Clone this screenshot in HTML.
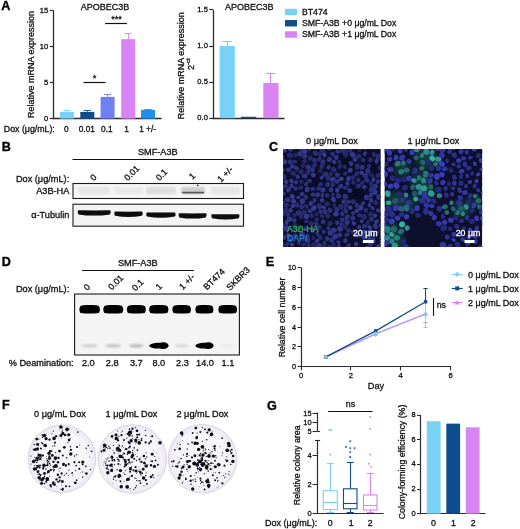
<!DOCTYPE html>
<html><head><meta charset="utf-8"><style>
html,body{margin:0;padding:0;background:#fff;}
svg{display:block;font-family:"Liberation Sans",sans-serif;}
</style></head><body>
<svg width="520" height="529" viewBox="0 0 520 529">
<defs>
<radialGradient id="pg" cx="50%" cy="50%" r="50%"><stop offset="0" stop-color="#faf9fc"/><stop offset="0.8" stop-color="#f6f5f9"/><stop offset="1" stop-color="#ebe8f1"/></radialGradient>
<filter id="b03" x="-50%" y="-50%" width="200%" height="200%"><feGaussianBlur stdDeviation="0.3"/></filter>
<filter id="b04" x="-100%" y="-100%" width="300%" height="300%"><feGaussianBlur stdDeviation="0.4"/></filter>
<filter id="b05" x="-20%" y="-50%" width="140%" height="200%"><feGaussianBlur stdDeviation="0.5"/></filter>
<filter id="b06" x="-5%" y="-5%" width="110%" height="110%"><feGaussianBlur stdDeviation="0.75"/></filter>
<filter id="b4" x="-100%" y="-100%" width="300%" height="300%"><feGaussianBlur stdDeviation="3.5"/></filter>
<filter id="b1" x="-20%" y="-100%" width="140%" height="300%"><feGaussianBlur stdDeviation="1"/></filter>
</defs>
<rect width="520" height="529" fill="#fff"/>
<text x="1.2" y="9.6" font-size="12.6" text-anchor="start" font-weight="bold" fill="#000" stroke="#000" stroke-width="0.35">A</text>
<text x="1.7" y="150.6" font-size="12.6" text-anchor="start" font-weight="bold" fill="#000" stroke="#000" stroke-width="0.35">B</text>
<text x="269.0" y="150.8" font-size="12.6" text-anchor="start" font-weight="bold" fill="#000" stroke="#000" stroke-width="0.35">C</text>
<text x="1.7" y="265.6" font-size="12.6" text-anchor="start" font-weight="bold" fill="#000" stroke="#000" stroke-width="0.35">D</text>
<text x="265.8" y="266.4" font-size="12.6" text-anchor="start" font-weight="bold" fill="#000" stroke="#000" stroke-width="0.35">E</text>
<text x="1.9" y="408.9" font-size="12.6" text-anchor="start" font-weight="bold" fill="#000" stroke="#000" stroke-width="0.35">F</text>
<text x="267.0" y="409.5" font-size="12.6" text-anchor="start" font-weight="bold" fill="#000" stroke="#000" stroke-width="0.35">G</text>
<line x1="53.5" y1="10.8" x2="53.5" y2="119.19999999999999" stroke="#2b2b2b" stroke-width="1.3"/>
<line x1="53.199999999999996" y1="118.5" x2="161.5" y2="118.5" stroke="#2b2b2b" stroke-width="1.3"/>
<line x1="49.8" y1="118.5" x2="53.8" y2="118.5" stroke="#2b2b2b" stroke-width="1.2"/>
<text x="48.3" y="121.3" font-size="7.6" text-anchor="end" font-weight="normal" fill="#111" stroke="#111" stroke-width="0.3" >0</text>
<line x1="49.8" y1="82.5" x2="53.8" y2="82.5" stroke="#2b2b2b" stroke-width="1.2"/>
<text x="48.3" y="85.35" font-size="7.6" text-anchor="end" font-weight="normal" fill="#111" stroke="#111" stroke-width="0.3" >5</text>
<line x1="49.8" y1="46.5" x2="53.8" y2="46.5" stroke="#2b2b2b" stroke-width="1.2"/>
<text x="48.3" y="49.39999999999999" font-size="7.6" text-anchor="end" font-weight="normal" fill="#111" stroke="#111" stroke-width="0.3" >10</text>
<line x1="49.8" y1="10.5" x2="53.8" y2="10.5" stroke="#2b2b2b" stroke-width="1.2"/>
<text x="48.3" y="13.449999999999985" font-size="7.6" text-anchor="end" font-weight="normal" fill="#111" stroke="#111" stroke-width="0.3" >15</text>
<text x="105" y="9.5" font-size="9" text-anchor="middle" font-weight="normal" fill="#111" stroke="#111" stroke-width="0.3" >APOBEC3B</text>
<text x="0" y="0" font-size="9" text-anchor="middle" font-weight="normal" fill="#111" stroke="#111" stroke-width="0.3" transform="translate(33.8,64.5) rotate(-90)">Relative mRNA expression</text>
<rect x="60" y="111.91329999999999" width="14" height="6.686700000000002" fill="#78d2f6" />
<line x1="67.5" y1="110.61909999999999" x2="67.5" y2="111.91329999999999" stroke="#78d2f6" stroke-width="0.9"/>
<line x1="63.3" y1="110.5" x2="70.7" y2="110.5" stroke="#78d2f6" stroke-width="0.9"/>
<rect x="80.3" y="111.91329999999999" width="14" height="6.686700000000002" fill="#0f4c8b" />
<line x1="87.5" y1="110.40339999999999" x2="87.5" y2="111.91329999999999" stroke="#0f4c8b" stroke-width="0.9"/>
<line x1="83.6" y1="110.5" x2="91.0" y2="110.5" stroke="#0f4c8b" stroke-width="0.9"/>
<rect x="100.6" y="96.88619999999999" width="14" height="21.713800000000006" fill="#6e80f3" />
<line x1="107.5" y1="94.0821" x2="107.5" y2="96.88619999999999" stroke="#6e80f3" stroke-width="0.9"/>
<line x1="103.89999999999999" y1="94.5" x2="111.3" y2="94.5" stroke="#6e80f3" stroke-width="0.9"/>
<rect x="121.2" y="39.15049999999998" width="14" height="79.44950000000001" fill="#d984f5" />
<line x1="128.5" y1="33.3985" x2="128.5" y2="39.15049999999998" stroke="#d984f5" stroke-width="0.9"/>
<line x1="124.49999999999999" y1="33.5" x2="131.89999999999998" y2="33.5" stroke="#d984f5" stroke-width="0.9"/>
<rect x="141" y="109.8282" width="14" height="8.771799999999999" fill="#1f8fe9" />
<line x1="148.5" y1="109.03729999999999" x2="148.5" y2="109.8282" stroke="#1f8fe9" stroke-width="0.9"/>
<line x1="144.3" y1="109.5" x2="151.7" y2="109.5" stroke="#1f8fe9" stroke-width="0.9"/>
<line x1="83.5" y1="82.5" x2="105.7" y2="82.5" stroke="#111" stroke-width="1.2"/>
<text x="94.5" y="81.2" font-size="9.2" text-anchor="middle" font-weight="normal" fill="#111" stroke="#111" stroke-width="0.3" >*</text>
<line x1="105.1" y1="23.5" x2="126.9" y2="23.5" stroke="#111" stroke-width="1.2"/>
<text x="116.5" y="22.0" font-size="9.2" text-anchor="middle" font-weight="normal" fill="#111" stroke="#111" stroke-width="0.3" >***</text>
<text x="3.8" y="132.4" font-size="8.8" text-anchor="start" font-weight="normal" fill="#111" stroke="#111" stroke-width="0.3" >Dox (μg/mL):</text>
<text x="66.4" y="132.2" font-size="8.3" text-anchor="middle" font-weight="normal" fill="#111" stroke="#111" stroke-width="0.3" >0</text>
<text x="86.8" y="132.2" font-size="8.3" text-anchor="middle" font-weight="normal" fill="#111" stroke="#111" stroke-width="0.3" >0.01</text>
<text x="106.8" y="132.2" font-size="8.3" text-anchor="middle" font-weight="normal" fill="#111" stroke="#111" stroke-width="0.3" >0.1</text>
<text x="126.6" y="132.2" font-size="8.3" text-anchor="middle" font-weight="normal" fill="#111" stroke="#111" stroke-width="0.3" >1</text>
<text x="147.6" y="132.2" font-size="8.3" text-anchor="middle" font-weight="normal" fill="#111" stroke="#111" stroke-width="0.3" >1 +/-</text>
<line x1="213.5" y1="9.9" x2="213.5" y2="118.8" stroke="#2b2b2b" stroke-width="1.3"/>
<line x1="212.6" y1="118.5" x2="284.5" y2="118.5" stroke="#2b2b2b" stroke-width="1.3"/>
<line x1="209.2" y1="118.5" x2="213.2" y2="118.5" stroke="#2b2b2b" stroke-width="1.2"/>
<text x="207.89999999999998" y="120.4" font-size="7.6" text-anchor="end" font-weight="normal" fill="#111" stroke="#111" stroke-width="0.3" >0.0</text>
<line x1="209.2" y1="82.5" x2="213.2" y2="82.5" stroke="#2b2b2b" stroke-width="1.2"/>
<text x="207.89999999999998" y="84.3" font-size="7.6" text-anchor="end" font-weight="normal" fill="#111" stroke="#111" stroke-width="0.3" >0.5</text>
<line x1="209.2" y1="46.5" x2="213.2" y2="46.5" stroke="#2b2b2b" stroke-width="1.2"/>
<text x="207.89999999999998" y="48.2" font-size="7.6" text-anchor="end" font-weight="normal" fill="#111" stroke="#111" stroke-width="0.3" >1.0</text>
<line x1="209.2" y1="9.5" x2="213.2" y2="9.5" stroke="#2b2b2b" stroke-width="1.2"/>
<text x="207.89999999999998" y="12.09999999999999" font-size="7.6" text-anchor="end" font-weight="normal" fill="#111" stroke="#111" stroke-width="0.3" >1.5</text>
<text x="249.2" y="9.8" font-size="9" text-anchor="middle" font-weight="normal" fill="#111" stroke="#111" stroke-width="0.3" >APOBEC3B</text>
<text x="0" y="0" font-size="9" text-anchor="middle" font-weight="normal" fill="#111" stroke="#111" stroke-width="0.3" transform="translate(183.6,65.8) rotate(-90)">Relative mRNA expression</text>
<text x="0" y="0" font-size="9" text-anchor="middle" fill="#111" stroke="#111" stroke-width="0.3" transform="translate(193.8,64.2) rotate(-90)">2<tspan font-size="6" dy="-3.6">-ct</tspan></text>
<rect x="219.6" y="46.0" width="15.2" height="72.2" fill="#78d2f6" />
<line x1="227.5" y1="41.66799999999999" x2="227.5" y2="46.0" stroke="#78d2f6" stroke-width="1.0"/>
<line x1="222.7" y1="41.5" x2="231.7" y2="41.5" stroke="#78d2f6" stroke-width="1.0"/>
<rect x="241" y="116.756" width="15.2" height="1.4440000000000026" fill="#0f4c8b" />
<rect x="263.3" y="82.89420000000001" width="15.2" height="35.30579999999999" fill="#d984f5" />
<line x1="270.5" y1="73.436" x2="270.5" y2="82.89420000000001" stroke="#d984f5" stroke-width="1.0"/>
<line x1="266.40000000000003" y1="73.5" x2="275.40000000000003" y2="73.5" stroke="#d984f5" stroke-width="1.0"/>
<rect x="285" y="8.8" width="12" height="6.4" fill="#78d2f6" />
<text x="302" y="14.8" font-size="8.7" text-anchor="start" font-weight="normal" fill="#111" stroke="#111" stroke-width="0.3" >BT474</text>
<rect x="285" y="20.05" width="12" height="6.4" fill="#0f4c8b" />
<text x="302" y="26.05" font-size="8.7" text-anchor="start" font-weight="normal" fill="#111" stroke="#111" stroke-width="0.3" >SMF-A3B +0 μg/mL Dox</text>
<rect x="285" y="31.3" width="12" height="6.4" fill="#d984f5" />
<text x="302" y="37.3" font-size="8.7" text-anchor="start" font-weight="normal" fill="#111" stroke="#111" stroke-width="0.3" >SMF-A3B +1 μg/mL Dox</text>
<text x="157.8" y="154.7" font-size="9.2" text-anchor="middle" font-weight="normal" fill="#111" stroke="#111" stroke-width="0.3" >SMF-A3B</text>
<line x1="72.5" y1="159.5" x2="243.8" y2="159.5" stroke="#111" stroke-width="1.1"/>
<text x="69.2" y="182.0" font-size="9.2" text-anchor="end" font-weight="normal" fill="#111" stroke="#111" stroke-width="0.3" >Dox (μg/mL):</text>
<text x="0" y="0" font-size="8.8" text-anchor="middle" font-weight="normal" fill="#111" stroke="#111" stroke-width="0.3" transform="translate(95.4,179.5) rotate(-45)">0</text>
<text x="0" y="0" font-size="8.8" text-anchor="middle" font-weight="normal" fill="#111" stroke="#111" stroke-width="0.3" transform="translate(133.9,175.2) rotate(-45)">0.01</text>
<text x="0" y="0" font-size="8.8" text-anchor="middle" font-weight="normal" fill="#111" stroke="#111" stroke-width="0.3" transform="translate(163.7,176.9) rotate(-45)">0.1</text>
<text x="0" y="0" font-size="8.8" text-anchor="middle" font-weight="normal" fill="#111" stroke="#111" stroke-width="0.3" transform="translate(194.2,178.2) rotate(-45)">1</text>
<text x="0" y="0" font-size="8.8" text-anchor="middle" font-weight="normal" fill="#111" stroke="#111" stroke-width="0.3" transform="translate(227.2,176.5) rotate(-45)">1 +/-</text>
<text x="69.4" y="194.2" font-size="9.2" text-anchor="end" font-weight="normal" fill="#111" stroke="#111" stroke-width="0.3" >A3B-HA</text>
<text x="69.4" y="218.4" font-size="9.2" text-anchor="end" font-weight="normal" fill="#111" stroke="#111" stroke-width="0.3" >α-Tubulin</text>
<rect x="73" y="183.5" width="170.5" height="15" fill="#f5f5f5" stroke="#1a1a1a" stroke-width="1.1"/>
<rect x="73" y="204.2" width="170.5" height="22" fill="#f3f3f3" stroke="#1a1a1a" stroke-width="1.1"/>
<rect x="78" y="187" width="32" height="7" rx="2" fill="#333" opacity="0.08" filter="url(#b1)"/>
<rect x="114" y="187" width="29" height="7" rx="2" fill="#333" opacity="0.06" filter="url(#b1)"/>
<rect x="146" y="187" width="30" height="7" rx="2" fill="#333" opacity="0.12" filter="url(#b1)"/>
<rect x="181" y="187" width="24" height="7" rx="2" fill="#333" opacity="0.2" filter="url(#b1)"/>
<rect x="211" y="187" width="29" height="7" rx="2" fill="#333" opacity="0.08" filter="url(#b1)"/>
<rect x="182" y="191.7" width="22.3" height="1.7" rx="0.8" fill="#333" opacity="0.75" filter="url(#b03)"/>
<circle cx="197.7" cy="185.4" r="0.8" fill="#222"/>
<path d="M78.1,210.29999999999998 Q94.19999999999999,210.5 110.3,210.29999999999998 Q111.39999999999999,212.39999999999998 110.0,214.39999999999998 Q94.19999999999999,216.79999999999998 78.39999999999999,214.39999999999998 Q77.0,212.39999999999998 78.1,210.29999999999998 Z" fill="#0a0a0a" filter="url(#b05)"/>
<path d="M114.8,211.6 Q128.5,211.8 142.2,211.6 Q143.29999999999998,213.7 141.89999999999998,215.7 Q128.5,218.1 115.1,215.7 Q113.7,213.7 114.8,211.6 Z" fill="#0a0a0a" filter="url(#b05)"/>
<path d="M146.7,212.4 Q160.89999999999998,212.60000000000002 175.1,212.4 Q176.2,214.5 174.79999999999998,216.5 Q160.89999999999998,218.9 147.0,216.5 Q145.6,214.5 146.7,212.4 Z" fill="#0a0a0a" filter="url(#b05)"/>
<path d="M179.0,213.29999999999998 Q192.6,213.5 206.2,213.29999999999998 Q207.29999999999998,215.39999999999998 205.89999999999998,217.39999999999998 Q192.6,219.79999999999998 179.3,217.39999999999998 Q177.9,215.39999999999998 179.0,213.29999999999998 Z" fill="#0a0a0a" filter="url(#b05)"/>
<path d="M211.7,214.2 Q225.39999999999998,214.4 239.1,214.2 Q240.2,216.29999999999998 238.79999999999998,218.29999999999998 Q225.39999999999998,220.7 212.0,218.29999999999998 Q210.6,216.29999999999998 211.7,214.2 Z" fill="#0a0a0a" filter="url(#b05)"/>
<text x="137.8" y="266.4" font-size="9.2" text-anchor="middle" font-weight="normal" fill="#111" stroke="#111" stroke-width="0.3" >SMF-A3B</text>
<line x1="82.1" y1="270.5" x2="193.9" y2="270.5" stroke="#111" stroke-width="1.1"/>
<text x="69.2" y="291.5" font-size="9.2" text-anchor="end" font-weight="normal" fill="#111" stroke="#111" stroke-width="0.3" >Dox (μg/mL):</text>
<text x="0" y="0" font-size="8.8" text-anchor="middle" font-weight="normal" fill="#111" stroke="#111" stroke-width="0.3" transform="translate(88.9,289.2) rotate(-45)">0</text>
<text x="0" y="0" font-size="8.8" text-anchor="middle" font-weight="normal" fill="#111" stroke="#111" stroke-width="0.3" transform="translate(117.9,284.5) rotate(-45)">0.01</text>
<text x="0" y="0" font-size="8.8" text-anchor="middle" font-weight="normal" fill="#111" stroke="#111" stroke-width="0.3" transform="translate(139.9,287.1) rotate(-45)">0.1</text>
<text x="0" y="0" font-size="8.8" text-anchor="middle" font-weight="normal" fill="#111" stroke="#111" stroke-width="0.3" transform="translate(161.1,288.8) rotate(-45)">1</text>
<text x="0" y="0" font-size="8.8" text-anchor="middle" font-weight="normal" fill="#111" stroke="#111" stroke-width="0.3" transform="translate(189.0,284.0) rotate(-45)">1 +/-</text>
<text x="0" y="0" font-size="8.8" text-anchor="middle" font-weight="normal" fill="#111" stroke="#111" stroke-width="0.3" transform="translate(216.2,281.4) rotate(-45)">BT474</text>
<text x="0" y="0" font-size="8.8" text-anchor="middle" font-weight="normal" fill="#111" stroke="#111" stroke-width="0.3" transform="translate(240.2,280.7) rotate(-45)">SKBR3</text>
<rect x="74.6" y="294" width="164.8" height="61" fill="#f4f4f4" stroke="#1a1a1a" stroke-width="1.1"/>
<path d="M80.5,306 Q83,304.6 89.65,305 Q96.3,304.6 98.8,306 Q101.1,309.5 98.8,313 Q89.65,314.2 80.5,313 Q78.2,309.5 80.5,306 Z" fill="#050505" filter="url(#b05)"/>
<path d="M104.4,306 Q106.9,304.6 113.25,305 Q119.6,304.6 122.1,306 Q124.39999999999999,309.5 122.1,313 Q113.25,314.2 104.4,313 Q102.10000000000001,309.5 104.4,306 Z" fill="#050505" filter="url(#b05)"/>
<path d="M128.0,306 Q130.5,304.6 136.35,305 Q142.2,304.6 144.7,306 Q147.0,309.5 144.7,313 Q136.35,314.2 128.0,313 Q125.7,309.5 128.0,306 Z" fill="#050505" filter="url(#b05)"/>
<path d="M150.3,306 Q152.8,304.6 158.8,305 Q164.8,304.6 167.3,306 Q169.60000000000002,309.5 167.3,313 Q158.8,314.2 150.3,313 Q148.0,309.5 150.3,306 Z" fill="#050505" filter="url(#b05)"/>
<path d="M173.5,306 Q176,304.6 181.65,305 Q187.3,304.6 189.8,306 Q192.10000000000002,309.5 189.8,313 Q181.65,314.2 173.5,313 Q171.2,309.5 173.5,306 Z" fill="#050505" filter="url(#b05)"/>
<path d="M196.5,306 Q199,304.6 204.4,305 Q209.8,304.6 212.3,306 Q214.60000000000002,309.5 212.3,313 Q204.4,314.2 196.5,313 Q194.2,309.5 196.5,306 Z" fill="#050505" filter="url(#b05)"/>
<path d="M219.5,306 Q222,304.6 227.75,305 Q233.5,304.6 236.0,306 Q238.3,309.5 236.0,313 Q227.75,314.2 219.5,313 Q217.2,309.5 219.5,306 Z" fill="#050505" filter="url(#b05)"/>
<ellipse cx="89.65" cy="345.8" rx="8.149999999999999" ry="1.8" fill="#333" opacity="0.18" filter="url(#b1)"/>
<ellipse cx="113.25" cy="345.8" rx="7.849999999999994" ry="1.8" fill="#333" opacity="0.25" filter="url(#b1)"/>
<ellipse cx="136.35" cy="345.8" rx="7.349999999999994" ry="1.8" fill="#333" opacity="0.3" filter="url(#b1)"/>
<g fill="#050505" filter="url(#b05)"><ellipse cx="158.8" cy="345.7" rx="9.7" ry="2.9"/><ellipse cx="163.3" cy="345.7" rx="5.2" ry="3.4"/></g>
<ellipse cx="181.65" cy="345.8" rx="7.150000000000006" ry="1.8" fill="#333" opacity="0.15" filter="url(#b1)"/>
<g fill="#050505" filter="url(#b05)"><ellipse cx="204.4" cy="345.7" rx="9.100000000000005" ry="2.9"/><ellipse cx="208.3" cy="345.7" rx="5.2" ry="3.4"/></g>
<ellipse cx="227.75" cy="345.8" rx="7.25" ry="1.8" fill="#333" opacity="0.05" filter="url(#b1)"/>
<text x="8.7" y="366.2" font-size="9.2" text-anchor="start" font-weight="normal" fill="#111" stroke="#111" stroke-width="0.3" >% Deamination:</text>
<text x="88.3" y="366.2" font-size="9.2" text-anchor="middle" font-weight="normal" fill="#111" stroke="#111" stroke-width="0.3" >2.0</text>
<text x="112.2" y="366.2" font-size="9.2" text-anchor="middle" font-weight="normal" fill="#111" stroke="#111" stroke-width="0.3" >2.8</text>
<text x="136.3" y="366.2" font-size="9.2" text-anchor="middle" font-weight="normal" fill="#111" stroke="#111" stroke-width="0.3" >3.7</text>
<text x="158.8" y="366.2" font-size="9.2" text-anchor="middle" font-weight="normal" fill="#111" stroke="#111" stroke-width="0.3" >8.0</text>
<text x="182.5" y="366.2" font-size="9.2" text-anchor="middle" font-weight="normal" fill="#111" stroke="#111" stroke-width="0.3" >2.3</text>
<text x="205" y="366.2" font-size="9.2" text-anchor="middle" font-weight="normal" fill="#111" stroke="#111" stroke-width="0.3" >14.0</text>
<text x="228" y="366.2" font-size="9.2" text-anchor="middle" font-weight="normal" fill="#111" stroke="#111" stroke-width="0.3" >1.1</text>
<clipPath id="clip11"><rect x="283" y="149" width="97.8" height="98"/></clipPath>
<g clip-path="url(#clip11)">
<rect x="283" y="149" width="97.8" height="98" fill="#0d0f2c" />
<g filter="url(#b06)">
<ellipse cx="327.2" cy="203.9" rx="2.7" ry="2.3" transform="rotate(175 327.2 203.9)" fill="rgb(42, 47, 120)"/>
<ellipse cx="319.3" cy="206.3" rx="2.9" ry="2.7" transform="rotate(72 319.3 206.3)" fill="rgb(41, 46, 118)"/>
<ellipse cx="330.0" cy="210.1" rx="2.7" ry="2.4" transform="rotate(77 330.0 210.1)" fill="rgb(46, 51, 130)"/>
<ellipse cx="325.1" cy="211.8" rx="2.7" ry="2.4" transform="rotate(65 325.1 211.8)" fill="rgb(46, 51, 129)"/>
<ellipse cx="322.1" cy="200.3" rx="2.4" ry="2.2" transform="rotate(19 322.1 200.3)" fill="rgb(49, 55, 139)"/>
<ellipse cx="327.6" cy="215.6" rx="2.7" ry="2.3" transform="rotate(80 327.6 215.6)" fill="rgb(37, 41, 105)"/>
<ellipse cx="327.3" cy="195.4" rx="2.4" ry="2.2" transform="rotate(7 327.3 195.4)" fill="rgb(40, 45, 114)"/>
<ellipse cx="331.0" cy="189.7" rx="2.5" ry="2.2" transform="rotate(107 331.0 189.7)" fill="rgb(46, 52, 131)"/>
<ellipse cx="314.6" cy="200.3" rx="2.5" ry="2.1" transform="rotate(109 314.6 200.3)" fill="rgb(43, 48, 121)"/>
<ellipse cx="327.5" cy="184.4" rx="2.8" ry="2.4" transform="rotate(112 327.5 184.4)" fill="rgb(43, 48, 121)"/>
<ellipse cx="313.0" cy="194.6" rx="2.2" ry="2.0" transform="rotate(178 313.0 194.6)" fill="rgb(50, 56, 140)"/>
<ellipse cx="320.5" cy="211.4" rx="2.5" ry="2.1" transform="rotate(63 320.5 211.4)" fill="rgb(44, 49, 125)"/>
<ellipse cx="328.1" cy="178.2" rx="2.6" ry="2.2" transform="rotate(175 328.1 178.2)" fill="rgb(42, 47, 120)"/>
<ellipse cx="322.3" cy="195.3" rx="2.5" ry="1.9" transform="rotate(76 322.3 195.3)" fill="rgb(44, 49, 123)"/>
<ellipse cx="323.9" cy="207.4" rx="2.2" ry="1.7" transform="rotate(15 323.9 207.4)" fill="rgb(52, 58, 146)"/>
<ellipse cx="332.6" cy="184.6" rx="2.3" ry="2.1" transform="rotate(78 332.6 184.6)" fill="rgb(41, 46, 117)"/>
<ellipse cx="332.7" cy="195.0" rx="2.4" ry="1.9" transform="rotate(95 332.7 195.0)" fill="rgb(37, 42, 107)"/>
<ellipse cx="317.6" cy="194.9" rx="2.6" ry="2.3" transform="rotate(131 317.6 194.9)" fill="rgb(48, 53, 135)"/>
<ellipse cx="336.0" cy="213.9" rx="2.7" ry="2.5" transform="rotate(158 336.0 213.9)" fill="rgb(52, 58, 147)"/>
<ellipse cx="337.2" cy="190.3" rx="2.6" ry="2.1" transform="rotate(83 337.2 190.3)" fill="rgb(53, 59, 148)"/>
<ellipse cx="340.7" cy="186.3" rx="2.7" ry="2.2" transform="rotate(153 340.7 186.3)" fill="rgb(47, 52, 132)"/>
<ellipse cx="323.1" cy="221.7" rx="2.4" ry="2.2" transform="rotate(18 323.1 221.7)" fill="rgb(45, 50, 128)"/>
<ellipse cx="334.4" cy="205.5" rx="2.4" ry="1.9" transform="rotate(86 334.4 205.5)" fill="rgb(36, 41, 104)"/>
<ellipse cx="333.4" cy="199.7" rx="2.9" ry="2.3" transform="rotate(53 333.4 199.7)" fill="rgb(53, 59, 147)"/>
<ellipse cx="332.7" cy="179.2" rx="2.9" ry="2.3" transform="rotate(163 332.7 179.2)" fill="rgb(52, 57, 144)"/>
<ellipse cx="322.8" cy="189.8" rx="2.7" ry="2.5" transform="rotate(56 322.8 189.8)" fill="rgb(51, 57, 144)"/>
<ellipse cx="313.8" cy="208.1" rx="3.0" ry="2.5" transform="rotate(127 313.8 208.1)" fill="rgb(52, 58, 145)"/>
<ellipse cx="310.8" cy="203.4" rx="2.4" ry="2.0" transform="rotate(120 310.8 203.4)" fill="rgb(53, 59, 148)"/>
<ellipse cx="316.8" cy="219.2" rx="2.4" ry="2.1" transform="rotate(10 316.8 219.2)" fill="rgb(37, 41, 106)"/>
<ellipse cx="338.3" cy="196.0" rx="2.7" ry="2.4" transform="rotate(50 338.3 196.0)" fill="rgb(43, 48, 122)"/>
<ellipse cx="320.5" cy="184.3" rx="2.5" ry="2.0" transform="rotate(139 320.5 184.3)" fill="rgb(51, 57, 144)"/>
<ellipse cx="330.0" cy="223.5" rx="2.9" ry="2.3" transform="rotate(134 330.0 223.5)" fill="rgb(37, 41, 106)"/>
<ellipse cx="321.7" cy="177.5" rx="2.3" ry="1.9" transform="rotate(134 321.7 177.5)" fill="rgb(53, 59, 148)"/>
<ellipse cx="312.8" cy="188.9" rx="2.4" ry="2.0" transform="rotate(6 312.8 188.9)" fill="rgb(46, 51, 130)"/>
<ellipse cx="311.2" cy="223.5" rx="2.8" ry="2.2" transform="rotate(169 311.2 223.5)" fill="rgb(37, 41, 106)"/>
<ellipse cx="307.2" cy="189.4" rx="2.9" ry="2.4" transform="rotate(112 307.2 189.4)" fill="rgb(49, 55, 138)"/>
<ellipse cx="341.3" cy="178.9" rx="2.5" ry="2.2" transform="rotate(3 341.3 178.9)" fill="rgb(52, 58, 145)"/>
<ellipse cx="311.8" cy="215.8" rx="2.3" ry="2.0" transform="rotate(64 311.8 215.8)" fill="rgb(38, 42, 108)"/>
<ellipse cx="306.3" cy="206.3" rx="2.5" ry="2.0" transform="rotate(38 306.3 206.3)" fill="rgb(40, 44, 113)"/>
<ellipse cx="347.5" cy="183.5" rx="2.4" ry="2.0" transform="rotate(52 347.5 183.5)" fill="rgb(50, 55, 140)"/>
<ellipse cx="345.3" cy="173.6" rx="2.4" ry="1.8" transform="rotate(137 345.3 173.6)" fill="rgb(37, 41, 106)"/>
<ellipse cx="313.3" cy="175.0" rx="2.6" ry="2.3" transform="rotate(35 313.3 175.0)" fill="rgb(52, 58, 145)"/>
<ellipse cx="337.2" cy="222.8" rx="2.3" ry="2.2" transform="rotate(139 337.2 222.8)" fill="rgb(48, 53, 134)"/>
<ellipse cx="300.6" cy="187.6" rx="2.5" ry="2.1" transform="rotate(143 300.6 187.6)" fill="rgb(40, 44, 113)"/>
<ellipse cx="316.5" cy="213.9" rx="2.3" ry="2.0" transform="rotate(80 316.5 213.9)" fill="rgb(36, 40, 102)"/>
<ellipse cx="325.5" cy="174.4" rx="2.9" ry="2.6" transform="rotate(11 325.5 174.4)" fill="rgb(45, 50, 126)"/>
<ellipse cx="328.6" cy="228.4" rx="2.4" ry="2.0" transform="rotate(63 328.6 228.4)" fill="rgb(41, 46, 116)"/>
<ellipse cx="336.8" cy="209.5" rx="2.8" ry="2.3" transform="rotate(90 336.8 209.5)" fill="rgb(44, 49, 125)"/>
<ellipse cx="305.8" cy="197.3" rx="2.6" ry="2.1" transform="rotate(115 305.8 197.3)" fill="rgb(44, 49, 124)"/>
<ellipse cx="306.4" cy="221.5" rx="2.3" ry="1.8" transform="rotate(167 306.4 221.5)" fill="rgb(40, 44, 113)"/>
<ellipse cx="340.9" cy="206.7" rx="2.9" ry="2.5" transform="rotate(73 340.9 206.7)" fill="rgb(38, 42, 109)"/>
<ellipse cx="318.2" cy="188.4" rx="2.3" ry="1.9" transform="rotate(105 318.2 188.4)" fill="rgb(47, 53, 134)"/>
<ellipse cx="353.0" cy="177.4" rx="2.6" ry="2.1" transform="rotate(137 353.0 177.4)" fill="rgb(38, 42, 109)"/>
<ellipse cx="296.1" cy="182.1" rx="2.4" ry="2.1" transform="rotate(115 296.1 182.1)" fill="rgb(45, 50, 127)"/>
<ellipse cx="353.4" cy="182.6" rx="2.3" ry="2.1" transform="rotate(31 353.4 182.6)" fill="rgb(40, 45, 114)"/>
<ellipse cx="343.8" cy="201.7" rx="2.6" ry="2.2" transform="rotate(113 343.8 201.7)" fill="rgb(45, 50, 127)"/>
<ellipse cx="330.7" cy="174.0" rx="2.6" ry="2.0" transform="rotate(122 330.7 174.0)" fill="rgb(37, 42, 107)"/>
<ellipse cx="297.4" cy="205.1" rx="2.6" ry="2.3" transform="rotate(74 297.4 205.1)" fill="rgb(39, 44, 112)"/>
<ellipse cx="322.0" cy="216.1" rx="2.3" ry="1.8" transform="rotate(12 322.0 216.1)" fill="rgb(38, 42, 108)"/>
<ellipse cx="340.0" cy="228.9" rx="2.9" ry="2.6" transform="rotate(28 340.0 228.9)" fill="rgb(49, 55, 138)"/>
<ellipse cx="337.3" cy="174.9" rx="2.6" ry="2.4" transform="rotate(76 337.3 174.9)" fill="rgb(44, 49, 125)"/>
<ellipse cx="295.6" cy="188.4" rx="2.2" ry="2.0" transform="rotate(2 295.6 188.4)" fill="rgb(47, 52, 132)"/>
<ellipse cx="302.4" cy="201.3" rx="2.7" ry="2.5" transform="rotate(64 302.4 201.3)" fill="rgb(52, 58, 146)"/>
<ellipse cx="328.6" cy="167.3" rx="2.2" ry="2.0" transform="rotate(160 328.6 167.3)" fill="rgb(48, 54, 135)"/>
<ellipse cx="320.4" cy="170.9" rx="2.3" ry="2.2" transform="rotate(25 320.4 170.9)" fill="rgb(36, 40, 103)"/>
<ellipse cx="349.8" cy="190.5" rx="2.6" ry="2.3" transform="rotate(43 349.8 190.5)" fill="rgb(52, 57, 144)"/>
<ellipse cx="302.1" cy="194.2" rx="2.6" ry="2.1" transform="rotate(179 302.1 194.2)" fill="rgb(48, 53, 135)"/>
<ellipse cx="345.4" cy="187.6" rx="2.5" ry="1.9" transform="rotate(148 345.4 187.6)" fill="rgb(44, 49, 124)"/>
<ellipse cx="323.8" cy="231.9" rx="2.3" ry="1.9" transform="rotate(72 323.8 231.9)" fill="rgb(46, 51, 129)"/>
<ellipse cx="348.6" cy="178.5" rx="2.8" ry="2.3" transform="rotate(103 348.6 178.5)" fill="rgb(51, 57, 143)"/>
<ellipse cx="350.2" cy="170.2" rx="2.7" ry="2.2" transform="rotate(122 350.2 170.2)" fill="rgb(53, 58, 147)"/>
<ellipse cx="310.0" cy="210.9" rx="2.7" ry="2.2" transform="rotate(28 310.0 210.9)" fill="rgb(44, 49, 125)"/>
<ellipse cx="357.4" cy="166.5" rx="3.0" ry="2.4" transform="rotate(92 357.4 166.5)" fill="rgb(39, 44, 113)"/>
<ellipse cx="345.5" cy="196.6" rx="2.9" ry="2.7" transform="rotate(43 345.5 196.6)" fill="rgb(44, 49, 124)"/>
<ellipse cx="358.4" cy="186.2" rx="2.8" ry="2.3" transform="rotate(136 358.4 186.2)" fill="rgb(45, 50, 126)"/>
<ellipse cx="301.5" cy="181.7" rx="2.3" ry="2.0" transform="rotate(164 301.5 181.7)" fill="rgb(36, 41, 105)"/>
<ellipse cx="345.6" cy="210.6" rx="2.8" ry="2.2" transform="rotate(48 345.6 210.6)" fill="rgb(44, 49, 124)"/>
<ellipse cx="344.6" cy="166.7" rx="2.3" ry="1.8" transform="rotate(61 344.6 166.7)" fill="rgb(43, 48, 121)"/>
<ellipse cx="342.4" cy="213.9" rx="2.5" ry="2.0" transform="rotate(52 342.4 213.9)" fill="rgb(45, 50, 126)"/>
<ellipse cx="303.7" cy="212.4" rx="3.0" ry="2.4" transform="rotate(159 303.7 212.4)" fill="rgb(37, 41, 105)"/>
<ellipse cx="319.1" cy="227.3" rx="2.7" ry="2.5" transform="rotate(59 319.1 227.3)" fill="rgb(37, 41, 106)"/>
<ellipse cx="330.4" cy="233.1" rx="2.8" ry="2.6" transform="rotate(27 330.4 233.1)" fill="rgb(50, 56, 142)"/>
<ellipse cx="298.3" cy="197.4" rx="2.2" ry="1.7" transform="rotate(4 298.3 197.4)" fill="rgb(49, 54, 137)"/>
<ellipse cx="364.3" cy="187.1" rx="2.4" ry="2.1" transform="rotate(11 364.3 187.1)" fill="rgb(51, 57, 143)"/>
<ellipse cx="339.7" cy="166.7" rx="2.6" ry="2.0" transform="rotate(116 339.7 166.7)" fill="rgb(39, 43, 111)"/>
<ellipse cx="291.5" cy="181.0" rx="2.4" ry="2.0" transform="rotate(49 291.5 181.0)" fill="rgb(52, 58, 146)"/>
<ellipse cx="297.8" cy="176.8" rx="2.3" ry="1.9" transform="rotate(42 297.8 176.8)" fill="rgb(49, 54, 137)"/>
<ellipse cx="293.5" cy="201.3" rx="2.6" ry="2.4" transform="rotate(33 293.5 201.3)" fill="rgb(50, 55, 140)"/>
<ellipse cx="298.6" cy="213.0" rx="2.9" ry="2.5" transform="rotate(111 298.6 213.0)" fill="rgb(41, 46, 117)"/>
<ellipse cx="301.1" cy="171.7" rx="2.6" ry="2.4" transform="rotate(119 301.1 171.7)" fill="rgb(37, 41, 106)"/>
<ellipse cx="356.9" cy="173.8" rx="2.8" ry="2.3" transform="rotate(126 356.9 173.8)" fill="rgb(37, 41, 106)"/>
<ellipse cx="333.8" cy="230.1" rx="3.0" ry="2.5" transform="rotate(21 333.8 230.1)" fill="rgb(48, 54, 135)"/>
<ellipse cx="335.1" cy="236.6" rx="2.8" ry="2.7" transform="rotate(109 335.1 236.6)" fill="rgb(49, 54, 137)"/>
<ellipse cx="348.5" cy="230.4" rx="2.4" ry="2.0" transform="rotate(6 348.5 230.4)" fill="rgb(43, 47, 121)"/>
<ellipse cx="296.3" cy="168.2" rx="2.8" ry="2.3" transform="rotate(47 296.3 168.2)" fill="rgb(44, 49, 124)"/>
<ellipse cx="288.5" cy="189.6" rx="2.8" ry="2.3" transform="rotate(113 288.5 189.6)" fill="rgb(47, 52, 133)"/>
<ellipse cx="341.6" cy="224.4" rx="2.2" ry="2.1" transform="rotate(119 341.6 224.4)" fill="rgb(42, 47, 119)"/>
<ellipse cx="301.6" cy="206.8" rx="2.6" ry="2.3" transform="rotate(54 301.6 206.8)" fill="rgb(42, 46, 118)"/>
<ellipse cx="301.1" cy="216.9" rx="2.4" ry="2.2" transform="rotate(83 301.1 216.9)" fill="rgb(37, 41, 106)"/>
<ellipse cx="333.8" cy="169.6" rx="2.9" ry="2.4" transform="rotate(44 333.8 169.6)" fill="rgb(40, 45, 114)"/>
<ellipse cx="339.5" cy="235.1" rx="2.8" ry="2.3" transform="rotate(153 339.5 235.1)" fill="rgb(48, 54, 135)"/>
<ellipse cx="346.9" cy="234.7" rx="2.7" ry="2.0" transform="rotate(157 346.9 234.7)" fill="rgb(41, 46, 117)"/>
<ellipse cx="305.8" cy="228.6" rx="2.8" ry="2.5" transform="rotate(165 305.8 228.6)" fill="rgb(46, 52, 131)"/>
<ellipse cx="287.6" cy="199.8" rx="2.9" ry="2.5" transform="rotate(172 287.6 199.8)" fill="rgb(45, 50, 127)"/>
<ellipse cx="317.3" cy="233.7" rx="2.4" ry="2.0" transform="rotate(58 317.3 233.7)" fill="rgb(41, 46, 118)"/>
<ellipse cx="290.6" cy="210.4" rx="2.4" ry="2.2" transform="rotate(102 290.6 210.4)" fill="rgb(49, 55, 138)"/>
<ellipse cx="371.2" cy="183.8" rx="2.7" ry="2.3" transform="rotate(81 371.2 183.8)" fill="rgb(37, 41, 105)"/>
<ellipse cx="309.5" cy="180.8" rx="2.8" ry="2.1" transform="rotate(9 309.5 180.8)" fill="rgb(41, 45, 116)"/>
<ellipse cx="342.4" cy="219.8" rx="2.6" ry="2.2" transform="rotate(7 342.4 219.8)" fill="rgb(43, 48, 121)"/>
<ellipse cx="337.0" cy="181.3" rx="2.7" ry="2.4" transform="rotate(3 337.0 181.3)" fill="rgb(43, 48, 122)"/>
<ellipse cx="334.1" cy="162.0" rx="2.3" ry="2.0" transform="rotate(19 334.1 162.0)" fill="rgb(51, 57, 144)"/>
<ellipse cx="338.5" cy="242.1" rx="2.2" ry="2.0" transform="rotate(33 338.5 242.1)" fill="rgb(44, 49, 125)"/>
<ellipse cx="294.6" cy="220.5" rx="2.3" ry="1.9" transform="rotate(119 294.6 220.5)" fill="rgb(50, 56, 141)"/>
<ellipse cx="327.2" cy="238.5" rx="2.3" ry="2.2" transform="rotate(50 327.2 238.5)" fill="rgb(49, 54, 137)"/>
<ellipse cx="286.1" cy="181.7" rx="2.3" ry="2.1" transform="rotate(47 286.1 181.7)" fill="rgb(49, 54, 137)"/>
<ellipse cx="294.7" cy="225.3" rx="2.8" ry="2.3" transform="rotate(132 294.7 225.3)" fill="rgb(38, 42, 109)"/>
<ellipse cx="306.1" cy="184.1" rx="2.4" ry="1.9" transform="rotate(148 306.1 184.1)" fill="rgb(43, 48, 122)"/>
<ellipse cx="287.8" cy="214.6" rx="2.5" ry="2.1" transform="rotate(156 287.8 214.6)" fill="rgb(40, 44, 114)"/>
<ellipse cx="282.8" cy="202.2" rx="2.4" ry="2.0" transform="rotate(13 282.8 202.2)" fill="rgb(37, 41, 106)"/>
<ellipse cx="347.3" cy="217.1" rx="2.8" ry="2.1" transform="rotate(121 347.3 217.1)" fill="rgb(48, 53, 135)"/>
<ellipse cx="345.2" cy="227.1" rx="2.6" ry="2.1" transform="rotate(38 345.2 227.1)" fill="rgb(37, 41, 105)"/>
<ellipse cx="347.2" cy="222.5" rx="2.7" ry="2.5" transform="rotate(114 347.2 222.5)" fill="rgb(47, 52, 132)"/>
<ellipse cx="292.3" cy="196.4" rx="2.8" ry="2.2" transform="rotate(53 292.3 196.4)" fill="rgb(53, 59, 149)"/>
<ellipse cx="284.2" cy="176.8" rx="2.7" ry="2.1" transform="rotate(83 284.2 176.8)" fill="rgb(41, 46, 118)"/>
<ellipse cx="285.8" cy="210.2" rx="2.8" ry="2.5" transform="rotate(52 285.8 210.2)" fill="rgb(39, 44, 112)"/>
<ellipse cx="308.1" cy="172.0" rx="2.7" ry="2.5" transform="rotate(112 308.1 172.0)" fill="rgb(37, 42, 107)"/>
<ellipse cx="333.5" cy="244.6" rx="2.6" ry="2.2" transform="rotate(84 333.5 244.6)" fill="rgb(36, 40, 103)"/>
<ellipse cx="285.3" cy="186.2" rx="2.4" ry="1.9" transform="rotate(167 285.3 186.2)" fill="rgb(43, 48, 122)"/>
<ellipse cx="358.3" cy="179.9" rx="2.4" ry="2.1" transform="rotate(115 358.3 179.9)" fill="rgb(40, 45, 115)"/>
<ellipse cx="296.1" cy="229.7" rx="2.8" ry="2.5" transform="rotate(173 296.1 229.7)" fill="rgb(40, 44, 113)"/>
<ellipse cx="312.3" cy="229.7" rx="2.8" ry="2.3" transform="rotate(64 312.3 229.7)" fill="rgb(48, 53, 134)"/>
<ellipse cx="288.5" cy="169.7" rx="2.6" ry="2.2" transform="rotate(11 288.5 169.7)" fill="rgb(47, 52, 132)"/>
<ellipse cx="280.3" cy="180.7" rx="2.6" ry="2.3" transform="rotate(163 280.3 180.7)" fill="rgb(44, 49, 123)"/>
<ellipse cx="353.9" cy="223.3" rx="2.3" ry="1.9" transform="rotate(15 353.9 223.3)" fill="rgb(53, 59, 149)"/>
<ellipse cx="355.0" cy="159.4" rx="2.5" ry="2.3" transform="rotate(79 355.0 159.4)" fill="rgb(51, 57, 143)"/>
<ellipse cx="338.8" cy="246.9" rx="2.8" ry="2.2" transform="rotate(102 338.8 246.9)" fill="rgb(48, 54, 136)"/>
<ellipse cx="361.8" cy="173.0" rx="2.4" ry="2.0" transform="rotate(28 361.8 173.0)" fill="rgb(53, 58, 147)"/>
<ellipse cx="280.1" cy="217.5" rx="2.4" ry="2.0" transform="rotate(51 280.1 217.5)" fill="rgb(49, 54, 137)"/>
<ellipse cx="362.2" cy="167.4" rx="2.7" ry="2.2" transform="rotate(130 362.2 167.4)" fill="rgb(47, 52, 131)"/>
<ellipse cx="345.3" cy="240.6" rx="2.5" ry="2.2" transform="rotate(131 345.3 240.6)" fill="rgb(48, 54, 135)"/>
<ellipse cx="294.4" cy="215.4" rx="2.2" ry="2.1" transform="rotate(71 294.4 215.4)" fill="rgb(36, 41, 105)"/>
<ellipse cx="282.9" cy="193.8" rx="2.9" ry="2.3" transform="rotate(173 282.9 193.8)" fill="rgb(46, 51, 130)"/>
<ellipse cx="345.1" cy="152.2" rx="3.0" ry="2.3" transform="rotate(134 345.1 152.2)" fill="rgb(41, 46, 118)"/>
<ellipse cx="282.4" cy="213.3" rx="2.8" ry="2.3" transform="rotate(61 282.4 213.3)" fill="rgb(51, 56, 142)"/>
<ellipse cx="302.0" cy="234.3" rx="2.9" ry="2.3" transform="rotate(13 302.0 234.3)" fill="rgb(52, 58, 146)"/>
<ellipse cx="356.9" cy="205.3" rx="2.5" ry="2.2" transform="rotate(97 356.9 205.3)" fill="rgb(44, 49, 125)"/>
<ellipse cx="329.3" cy="246.9" rx="2.6" ry="2.2" transform="rotate(171 329.3 246.9)" fill="rgb(38, 43, 109)"/>
<ellipse cx="371.0" cy="194.9" rx="2.4" ry="2.2" transform="rotate(127 371.0 194.9)" fill="rgb(48, 54, 136)"/>
<ellipse cx="357.1" cy="210.7" rx="2.5" ry="2.3" transform="rotate(144 357.1 210.7)" fill="rgb(48, 53, 134)"/>
<ellipse cx="353.2" cy="201.7" rx="2.7" ry="2.5" transform="rotate(131 353.2 201.7)" fill="rgb(43, 48, 123)"/>
<ellipse cx="320.2" cy="237.4" rx="2.8" ry="2.3" transform="rotate(57 320.2 237.4)" fill="rgb(39, 43, 111)"/>
<ellipse cx="293.3" cy="173.6" rx="3.0" ry="2.3" transform="rotate(50 293.3 173.6)" fill="rgb(38, 42, 108)"/>
<ellipse cx="352.7" cy="218.1" rx="2.6" ry="2.5" transform="rotate(122 352.7 218.1)" fill="rgb(44, 49, 125)"/>
<ellipse cx="299.2" cy="242.8" rx="2.3" ry="2.0" transform="rotate(24 299.2 242.8)" fill="rgb(38, 43, 109)"/>
<ellipse cx="359.7" cy="215.4" rx="2.4" ry="1.9" transform="rotate(0 359.7 215.4)" fill="rgb(44, 49, 124)"/>
<ellipse cx="353.2" cy="213.1" rx="2.3" ry="2.0" transform="rotate(110 353.2 213.1)" fill="rgb(46, 51, 129)"/>
<ellipse cx="361.0" cy="207.6" rx="2.8" ry="2.4" transform="rotate(93 361.0 207.6)" fill="rgb(52, 58, 146)"/>
<ellipse cx="281.9" cy="170.1" rx="2.9" ry="2.5" transform="rotate(90 281.9 170.1)" fill="rgb(52, 58, 145)"/>
<ellipse cx="304.5" cy="176.0" rx="2.9" ry="2.3" transform="rotate(18 304.5 176.0)" fill="rgb(46, 52, 131)"/>
<ellipse cx="350.3" cy="207.6" rx="2.3" ry="2.1" transform="rotate(10 350.3 207.6)" fill="rgb(53, 59, 149)"/>
<ellipse cx="314.5" cy="165.3" rx="2.6" ry="2.1" transform="rotate(155 314.5 165.3)" fill="rgb(41, 46, 116)"/>
<ellipse cx="353.6" cy="231.8" rx="2.8" ry="2.5" transform="rotate(166 353.6 231.8)" fill="rgb(38, 42, 108)"/>
<ellipse cx="361.8" cy="221.4" rx="2.2" ry="1.8" transform="rotate(25 361.8 221.4)" fill="rgb(48, 54, 136)"/>
<ellipse cx="348.4" cy="245.8" rx="2.9" ry="2.2" transform="rotate(113 348.4 245.8)" fill="rgb(41, 45, 116)"/>
<ellipse cx="362.2" cy="183.0" rx="2.3" ry="2.1" transform="rotate(136 362.2 183.0)" fill="rgb(38, 43, 110)"/>
<ellipse cx="292.9" cy="206.2" rx="2.5" ry="2.1" transform="rotate(178 292.9 206.2)" fill="rgb(49, 55, 139)"/>
<ellipse cx="292.2" cy="166.2" rx="2.5" ry="2.0" transform="rotate(84 292.2 166.2)" fill="rgb(51, 57, 143)"/>
<ellipse cx="358.0" cy="235.0" rx="2.6" ry="2.4" transform="rotate(98 358.0 235.0)" fill="rgb(49, 55, 139)"/>
<ellipse cx="351.0" cy="163.5" rx="2.6" ry="2.1" transform="rotate(46 351.0 163.5)" fill="rgb(53, 59, 147)"/>
<ellipse cx="286.5" cy="205.3" rx="2.6" ry="2.4" transform="rotate(122 286.5 205.3)" fill="rgb(40, 45, 114)"/>
<ellipse cx="356.2" cy="244.1" rx="2.4" ry="2.2" transform="rotate(34 356.2 244.1)" fill="rgb(49, 55, 138)"/>
<ellipse cx="345.0" cy="249.5" rx="2.5" ry="2.0" transform="rotate(139 345.0 249.5)" fill="rgb(49, 55, 139)"/>
<ellipse cx="337.8" cy="151.6" rx="2.4" ry="1.9" transform="rotate(32 337.8 151.6)" fill="rgb(47, 52, 131)"/>
<ellipse cx="365.9" cy="210.3" rx="2.7" ry="2.2" transform="rotate(83 365.9 210.3)" fill="rgb(37, 42, 107)"/>
<ellipse cx="366.4" cy="197.4" rx="2.9" ry="2.6" transform="rotate(109 366.4 197.4)" fill="rgb(48, 53, 134)"/>
<ellipse cx="316.0" cy="223.7" rx="2.4" ry="2.1" transform="rotate(47 316.0 223.7)" fill="rgb(42, 46, 118)"/>
<ellipse cx="295.2" cy="235.6" rx="2.5" ry="2.4" transform="rotate(0 295.2 235.6)" fill="rgb(41, 46, 117)"/>
<ellipse cx="369.5" cy="204.9" rx="2.3" ry="1.9" transform="rotate(83 369.5 204.9)" fill="rgb(47, 52, 132)"/>
<ellipse cx="366.8" cy="180.1" rx="2.6" ry="2.3" transform="rotate(28 366.8 180.1)" fill="rgb(44, 49, 125)"/>
<ellipse cx="362.9" cy="203.2" rx="2.3" ry="2.0" transform="rotate(154 362.9 203.2)" fill="rgb(49, 55, 139)"/>
<ellipse cx="286.0" cy="229.1" rx="2.7" ry="2.2" transform="rotate(24 286.0 229.1)" fill="rgb(45, 50, 126)"/>
<ellipse cx="291.5" cy="185.9" rx="2.4" ry="2.0" transform="rotate(53 291.5 185.9)" fill="rgb(47, 53, 134)"/>
<ellipse cx="362.1" cy="249.7" rx="2.5" ry="2.1" transform="rotate(161 362.1 249.7)" fill="rgb(52, 58, 147)"/>
<ellipse cx="308.3" cy="167.1" rx="2.6" ry="2.4" transform="rotate(57 308.3 167.1)" fill="rgb(47, 53, 133)"/>
<ellipse cx="345.8" cy="205.8" rx="2.8" ry="2.1" transform="rotate(135 345.8 205.8)" fill="rgb(37, 42, 107)"/>
<ellipse cx="334.0" cy="249.2" rx="2.9" ry="2.4" transform="rotate(132 334.0 249.2)" fill="rgb(53, 58, 147)"/>
<ellipse cx="282.0" cy="189.3" rx="2.5" ry="1.9" transform="rotate(20 282.0 189.3)" fill="rgb(44, 49, 125)"/>
<ellipse cx="364.0" cy="216.9" rx="3.0" ry="2.7" transform="rotate(166 364.0 216.9)" fill="rgb(38, 42, 108)"/>
<ellipse cx="363.2" cy="241.4" rx="2.2" ry="1.7" transform="rotate(88 363.2 241.4)" fill="rgb(38, 43, 109)"/>
<ellipse cx="288.5" cy="235.6" rx="2.9" ry="2.4" transform="rotate(60 288.5 235.6)" fill="rgb(46, 51, 130)"/>
<ellipse cx="313.2" cy="237.7" rx="2.2" ry="1.8" transform="rotate(96 313.2 237.7)" fill="rgb(36, 40, 103)"/>
<ellipse cx="375.8" cy="202.6" rx="2.7" ry="2.2" transform="rotate(45 375.8 202.6)" fill="rgb(37, 41, 106)"/>
<ellipse cx="303.9" cy="244.5" rx="2.4" ry="1.9" transform="rotate(157 303.9 244.5)" fill="rgb(37, 41, 106)"/>
<ellipse cx="303.1" cy="165.6" rx="2.4" ry="2.1" transform="rotate(117 303.1 165.6)" fill="rgb(36, 40, 103)"/>
<ellipse cx="319.1" cy="245.9" rx="3.0" ry="2.5" transform="rotate(107 319.1 245.9)" fill="rgb(48, 53, 134)"/>
<ellipse cx="286.6" cy="222.6" rx="2.4" ry="1.8" transform="rotate(74 286.6 222.6)" fill="rgb(53, 59, 147)"/>
<ellipse cx="370.7" cy="214.2" rx="2.6" ry="2.2" transform="rotate(113 370.7 214.2)" fill="rgb(39, 43, 111)"/>
<ellipse cx="348.4" cy="201.7" rx="2.2" ry="2.0" transform="rotate(149 348.4 201.7)" fill="rgb(48, 53, 134)"/>
<ellipse cx="371.3" cy="189.4" rx="3.0" ry="2.3" transform="rotate(118 371.3 189.4)" fill="rgb(44, 49, 126)"/>
<ellipse cx="339.4" cy="162.2" rx="2.4" ry="2.0" transform="rotate(96 339.4 162.2)" fill="rgb(37, 42, 107)"/>
<ellipse cx="284.4" cy="161.7" rx="2.8" ry="2.4" transform="rotate(41 284.4 161.7)" fill="rgb(53, 58, 147)"/>
<ellipse cx="359.2" cy="227.1" rx="2.2" ry="2.0" transform="rotate(93 359.2 227.1)" fill="rgb(51, 56, 142)"/>
<ellipse cx="307.9" cy="236.0" rx="2.5" ry="2.1" transform="rotate(93 307.9 236.0)" fill="rgb(41, 46, 117)"/>
<ellipse cx="308.7" cy="245.6" rx="2.4" ry="2.1" transform="rotate(125 308.7 245.6)" fill="rgb(41, 45, 115)"/>
<ellipse cx="375.0" cy="192.1" rx="3.0" ry="2.5" transform="rotate(115 375.0 192.1)" fill="rgb(51, 57, 144)"/>
<ellipse cx="377.8" cy="181.5" rx="2.4" ry="2.1" transform="rotate(135 377.8 181.5)" fill="rgb(44, 49, 125)"/>
<ellipse cx="324.4" cy="243.2" rx="2.3" ry="2.1" transform="rotate(112 324.4 243.2)" fill="rgb(41, 46, 117)"/>
<ellipse cx="336.3" cy="157.4" rx="2.6" ry="2.3" transform="rotate(109 336.3 157.4)" fill="rgb(47, 52, 132)"/>
<ellipse cx="363.7" cy="231.8" rx="2.5" ry="2.3" transform="rotate(166 363.7 231.8)" fill="rgb(51, 57, 143)"/>
<ellipse cx="303.0" cy="238.7" rx="2.7" ry="2.5" transform="rotate(81 303.0 238.7)" fill="rgb(38, 43, 110)"/>
<ellipse cx="316.1" cy="249.9" rx="2.9" ry="2.2" transform="rotate(24 316.1 249.9)" fill="rgb(47, 52, 132)"/>
<ellipse cx="371.7" cy="175.1" rx="2.5" ry="2.2" transform="rotate(24 371.7 175.1)" fill="rgb(37, 41, 105)"/>
<ellipse cx="317.1" cy="241.0" rx="2.4" ry="2.0" transform="rotate(142 317.1 241.0)" fill="rgb(51, 57, 144)"/>
<ellipse cx="329.4" cy="159.5" rx="2.6" ry="2.4" transform="rotate(123 329.4 159.5)" fill="rgb(49, 54, 138)"/>
<ellipse cx="367.9" cy="170.9" rx="2.8" ry="2.6" transform="rotate(62 367.9 170.9)" fill="rgb(48, 53, 135)"/>
<ellipse cx="382.3" cy="183.3" rx="2.4" ry="1.9" transform="rotate(162 382.3 183.3)" fill="rgb(41, 45, 116)"/>
<ellipse cx="372.6" cy="208.2" rx="2.3" ry="1.9" transform="rotate(39 372.6 208.2)" fill="rgb(47, 52, 133)"/>
<ellipse cx="306.6" cy="216.4" rx="2.8" ry="2.6" transform="rotate(112 306.6 216.4)" fill="rgb(53, 59, 147)"/>
<ellipse cx="378.5" cy="196.9" rx="2.8" ry="2.4" transform="rotate(90 378.5 196.9)" fill="rgb(43, 48, 122)"/>
<ellipse cx="367.9" cy="222.7" rx="2.5" ry="2.0" transform="rotate(125 367.9 222.7)" fill="rgb(37, 41, 105)"/>
<ellipse cx="319.4" cy="158.9" rx="2.5" ry="2.0" transform="rotate(120 319.4 158.9)" fill="rgb(41, 46, 118)"/>
<ellipse cx="304.4" cy="161.1" rx="2.4" ry="1.8" transform="rotate(158 304.4 161.1)" fill="rgb(38, 43, 109)"/>
<ellipse cx="310.4" cy="158.2" rx="2.7" ry="2.5" transform="rotate(166 310.4 158.2)" fill="rgb(36, 41, 105)"/>
<ellipse cx="369.0" cy="166.2" rx="2.4" ry="2.0" transform="rotate(93 369.0 166.2)" fill="rgb(41, 46, 117)"/>
<ellipse cx="319.5" cy="154.3" rx="2.6" ry="2.1" transform="rotate(30 319.5 154.3)" fill="rgb(38, 42, 108)"/>
<ellipse cx="358.5" cy="156.3" rx="2.8" ry="2.2" transform="rotate(2 358.5 156.3)" fill="rgb(39, 43, 110)"/>
<ellipse cx="364.1" cy="236.7" rx="2.8" ry="2.5" transform="rotate(178 364.1 236.7)" fill="rgb(51, 57, 144)"/>
<ellipse cx="371.0" cy="200.1" rx="2.6" ry="2.1" transform="rotate(42 371.0 200.1)" fill="rgb(47, 53, 133)"/>
<ellipse cx="312.4" cy="169.6" rx="2.6" ry="2.2" transform="rotate(72 312.4 169.6)" fill="rgb(45, 50, 128)"/>
<ellipse cx="290.0" cy="162.0" rx="2.6" ry="2.4" transform="rotate(172 290.0 162.0)" fill="rgb(43, 48, 121)"/>
<ellipse cx="281.5" cy="231.7" rx="2.5" ry="2.2" transform="rotate(73 281.5 231.7)" fill="rgb(51, 57, 143)"/>
<ellipse cx="280.9" cy="165.4" rx="2.5" ry="2.4" transform="rotate(143 280.9 165.4)" fill="rgb(49, 54, 137)"/>
<ellipse cx="315.2" cy="147.0" rx="2.6" ry="2.1" transform="rotate(29 315.2 147.0)" fill="rgb(48, 54, 136)"/>
<ellipse cx="314.1" cy="245.2" rx="2.9" ry="2.5" transform="rotate(49 314.1 245.2)" fill="rgb(36, 40, 102)"/>
<ellipse cx="323.8" cy="247.8" rx="2.9" ry="2.7" transform="rotate(110 323.8 247.8)" fill="rgb(40, 44, 114)"/>
<ellipse cx="363.1" cy="159.8" rx="2.6" ry="2.3" transform="rotate(34 363.1 159.8)" fill="rgb(37, 42, 107)"/>
<ellipse cx="376.5" cy="161.2" rx="2.6" ry="2.0" transform="rotate(80 376.5 161.2)" fill="rgb(49, 55, 138)"/>
<ellipse cx="370.4" cy="244.3" rx="2.5" ry="2.2" transform="rotate(33 370.4 244.3)" fill="rgb(45, 50, 128)"/>
<ellipse cx="304.6" cy="156.3" rx="2.8" ry="2.2" transform="rotate(162 304.6 156.3)" fill="rgb(46, 51, 130)"/>
<ellipse cx="369.8" cy="227.5" rx="2.5" ry="2.1" transform="rotate(38 369.8 227.5)" fill="rgb(51, 56, 142)"/>
<ellipse cx="282.4" cy="225.5" rx="2.9" ry="2.7" transform="rotate(79 282.4 225.5)" fill="rgb(45, 51, 128)"/>
<ellipse cx="378.2" cy="175.3" rx="2.9" ry="2.4" transform="rotate(155 378.2 175.3)" fill="rgb(40, 45, 114)"/>
<ellipse cx="315.2" cy="153.2" rx="2.7" ry="2.4" transform="rotate(38 315.2 153.2)" fill="rgb(42, 46, 118)"/>
<ellipse cx="321.8" cy="166.4" rx="2.7" ry="2.1" transform="rotate(105 321.8 166.4)" fill="rgb(40, 45, 114)"/>
<ellipse cx="307.6" cy="240.7" rx="2.8" ry="2.6" transform="rotate(173 307.6 240.7)" fill="rgb(46, 51, 130)"/>
<ellipse cx="300.1" cy="153.7" rx="2.8" ry="2.5" transform="rotate(91 300.1 153.7)" fill="rgb(47, 53, 134)"/>
<ellipse cx="352.6" cy="154.6" rx="3.0" ry="2.4" transform="rotate(39 352.6 154.6)" fill="rgb(53, 58, 147)"/>
<ellipse cx="380.0" cy="168.0" rx="2.5" ry="2.0" transform="rotate(1 380.0 168.0)" fill="rgb(41, 46, 117)"/>
<ellipse cx="292.0" cy="244.6" rx="2.2" ry="1.9" transform="rotate(16 292.0 244.6)" fill="rgb(53, 59, 149)"/>
<ellipse cx="382.6" cy="171.9" rx="2.3" ry="1.8" transform="rotate(178 382.6 171.9)" fill="rgb(50, 56, 141)"/>
<ellipse cx="382.4" cy="163.5" rx="2.5" ry="2.3" transform="rotate(49 382.4 163.5)" fill="rgb(38, 43, 109)"/>
<ellipse cx="305.0" cy="249.4" rx="2.2" ry="2.1" transform="rotate(76 305.0 249.4)" fill="rgb(42, 47, 119)"/>
<ellipse cx="308.9" cy="149.2" rx="2.4" ry="2.2" transform="rotate(94 308.9 149.2)" fill="rgb(36, 40, 103)"/>
<ellipse cx="370.0" cy="232.1" rx="2.6" ry="2.2" transform="rotate(171 370.0 232.1)" fill="rgb(44, 50, 126)"/>
<ellipse cx="289.7" cy="219.2" rx="2.9" ry="2.8" transform="rotate(177 289.7 219.2)" fill="rgb(50, 55, 140)"/>
<ellipse cx="290.6" cy="240.2" rx="2.4" ry="1.9" transform="rotate(82 290.6 240.2)" fill="rgb(48, 54, 136)"/>
<ellipse cx="364.5" cy="226.0" rx="2.6" ry="2.0" transform="rotate(10 364.5 226.0)" fill="rgb(47, 52, 133)"/>
<ellipse cx="376.4" cy="221.6" rx="2.7" ry="2.1" transform="rotate(151 376.4 221.6)" fill="rgb(49, 55, 139)"/>
<ellipse cx="290.0" cy="155.2" rx="2.9" ry="2.7" transform="rotate(24 290.0 155.2)" fill="rgb(40, 44, 113)"/>
<ellipse cx="282.0" cy="156.9" rx="2.8" ry="2.2" transform="rotate(99 282.0 156.9)" fill="rgb(51, 57, 144)"/>
<ellipse cx="284.2" cy="149.6" rx="3.0" ry="2.6" transform="rotate(88 284.2 149.6)" fill="rgb(53, 59, 149)"/>
<ellipse cx="297.6" cy="249.5" rx="2.4" ry="1.8" transform="rotate(22 297.6 249.5)" fill="rgb(42, 47, 120)"/>
<ellipse cx="283.8" cy="237.2" rx="2.7" ry="2.3" transform="rotate(38 283.8 237.2)" fill="rgb(45, 50, 126)"/>
<ellipse cx="322.5" cy="150.6" rx="2.7" ry="2.4" transform="rotate(15 322.5 150.6)" fill="rgb(40, 45, 115)"/>
<ellipse cx="375.2" cy="186.4" rx="2.9" ry="2.7" transform="rotate(136 375.2 186.4)" fill="rgb(45, 50, 126)"/>
<ellipse cx="331.7" cy="240.3" rx="2.7" ry="2.5" transform="rotate(140 331.7 240.3)" fill="rgb(42, 47, 120)"/>
<ellipse cx="375.5" cy="226.4" rx="2.8" ry="2.3" transform="rotate(58 375.5 226.4)" fill="rgb(47, 52, 132)"/>
<ellipse cx="365.6" cy="175.6" rx="2.9" ry="2.7" transform="rotate(3 365.6 175.6)" fill="rgb(44, 49, 125)"/>
<ellipse cx="352.3" cy="146.4" rx="3.0" ry="2.7" transform="rotate(5 352.3 146.4)" fill="rgb(47, 52, 132)"/>
<ellipse cx="286.8" cy="228.1" rx="2.9" ry="2.6" transform="rotate(91 286.8 228.1)" fill="rgb(48, 54, 135)"/>
<ellipse cx="383.5" cy="198.7" rx="2.3" ry="1.8" transform="rotate(132 383.5 198.7)" fill="rgb(39, 44, 113)"/>
<ellipse cx="373.4" cy="179.5" rx="2.4" ry="1.9" transform="rotate(98 373.4 179.5)" fill="rgb(52, 58, 146)"/>
<ellipse cx="324.4" cy="154.9" rx="2.6" ry="2.1" transform="rotate(74 324.4 154.9)" fill="rgb(53, 59, 147)"/>
<ellipse cx="332.7" cy="154.2" rx="2.5" ry="2.3" transform="rotate(44 332.7 154.2)" fill="rgb(42, 47, 119)"/>
<ellipse cx="323.0" cy="162.0" rx="2.8" ry="2.4" transform="rotate(107 323.0 162.0)" fill="rgb(42, 47, 119)"/>
<ellipse cx="341.5" cy="146.2" rx="2.2" ry="1.7" transform="rotate(128 341.5 146.2)" fill="rgb(42, 47, 119)"/>
<ellipse cx="350.1" cy="150.6" rx="2.4" ry="2.1" transform="rotate(112 350.1 150.6)" fill="rgb(38, 42, 108)"/>
<ellipse cx="324.5" cy="146.2" rx="2.3" ry="1.7" transform="rotate(85 324.5 146.2)" fill="rgb(50, 56, 141)"/>
<ellipse cx="282.2" cy="244.6" rx="2.9" ry="2.7" transform="rotate(72 282.2 244.6)" fill="rgb(37, 41, 106)"/>
<ellipse cx="287.2" cy="244.4" rx="2.5" ry="2.0" transform="rotate(108 287.2 244.4)" fill="rgb(41, 45, 116)"/>
<ellipse cx="370.5" cy="159.9" rx="2.7" ry="2.2" transform="rotate(96 370.5 159.9)" fill="rgb(38, 42, 109)"/>
<ellipse cx="294.6" cy="161.6" rx="2.6" ry="1.9" transform="rotate(6 294.6 161.6)" fill="rgb(38, 43, 110)"/>
<ellipse cx="353.2" cy="147.2" rx="2.3" ry="2.0" transform="rotate(37 353.2 147.2)" fill="rgb(51, 57, 144)"/>
<ellipse cx="329.4" cy="148.3" rx="3.0" ry="2.5" transform="rotate(8 329.4 148.3)" fill="rgb(39, 43, 111)"/>
<ellipse cx="378.2" cy="210.5" rx="2.2" ry="1.8" transform="rotate(19 378.2 210.5)" fill="rgb(52, 57, 144)"/>
<ellipse cx="359.7" cy="149.5" rx="2.4" ry="1.8" transform="rotate(118 359.7 149.5)" fill="rgb(38, 42, 109)"/>
<ellipse cx="382.1" cy="214.6" rx="2.5" ry="2.3" transform="rotate(80 382.1 214.6)" fill="rgb(46, 51, 129)"/>
<ellipse cx="381.7" cy="178.3" rx="2.2" ry="1.8" transform="rotate(32 381.7 178.3)" fill="rgb(36, 40, 103)"/>
<ellipse cx="314.7" cy="160.5" rx="2.6" ry="2.5" transform="rotate(61 314.7 160.5)" fill="rgb(41, 45, 116)"/>
<ellipse cx="373.8" cy="154.2" rx="2.5" ry="1.9" transform="rotate(77 373.8 154.2)" fill="rgb(39, 44, 113)"/>
<ellipse cx="304.5" cy="151.6" rx="2.9" ry="2.6" transform="rotate(55 304.5 151.6)" fill="rgb(50, 56, 140)"/>
<ellipse cx="381.2" cy="225.5" rx="2.6" ry="2.2" transform="rotate(18 381.2 225.5)" fill="rgb(52, 58, 147)"/>
<ellipse cx="301.2" cy="148.0" rx="2.9" ry="2.3" transform="rotate(155 301.2 148.0)" fill="rgb(50, 56, 142)"/>
<ellipse cx="371.5" cy="219.0" rx="2.5" ry="2.2" transform="rotate(62 371.5 219.0)" fill="rgb(43, 48, 122)"/>
<ellipse cx="375.0" cy="215.7" rx="2.2" ry="2.0" transform="rotate(156 375.0 215.7)" fill="rgb(52, 58, 146)"/>
<ellipse cx="377.9" cy="156.7" rx="2.8" ry="2.5" transform="rotate(72 377.9 156.7)" fill="rgb(42, 47, 119)"/>
<ellipse cx="378.8" cy="246.6" rx="2.6" ry="2.4" transform="rotate(43 378.8 246.6)" fill="rgb(48, 54, 136)"/>
<ellipse cx="382.5" cy="220.5" rx="2.9" ry="2.7" transform="rotate(112 382.5 220.5)" fill="rgb(38, 43, 109)"/>
<ellipse cx="383.2" cy="203.3" rx="2.6" ry="2.0" transform="rotate(68 383.2 203.3)" fill="rgb(39, 44, 112)"/>
<ellipse cx="295.6" cy="147.3" rx="2.9" ry="2.3" transform="rotate(3 295.6 147.3)" fill="rgb(41, 45, 115)"/>
<ellipse cx="383.2" cy="230.8" rx="2.4" ry="1.8" transform="rotate(168 383.2 230.8)" fill="rgb(42, 47, 120)"/>
<ellipse cx="295.5" cy="155.2" rx="2.4" ry="2.1" transform="rotate(146 295.5 155.2)" fill="rgb(36, 40, 104)"/>
<ellipse cx="290.8" cy="148.7" rx="2.8" ry="2.5" transform="rotate(117 290.8 148.7)" fill="rgb(53, 59, 149)"/>
<ellipse cx="376.0" cy="147.6" rx="2.3" ry="1.8" transform="rotate(134 376.0 147.6)" fill="rgb(40, 45, 114)"/>
<ellipse cx="377.5" cy="232.3" rx="2.4" ry="1.8" transform="rotate(165 377.5 232.3)" fill="rgb(40, 44, 113)"/>
<ellipse cx="365.0" cy="153.6" rx="2.3" ry="1.8" transform="rotate(112 365.0 153.6)" fill="rgb(51, 57, 144)"/>
<ellipse cx="381.5" cy="238.5" rx="2.3" ry="2.0" transform="rotate(6 381.5 238.5)" fill="rgb(53, 59, 147)"/>
<ellipse cx="373.3" cy="240.6" rx="3.0" ry="2.3" transform="rotate(85 373.3 240.6)" fill="rgb(52, 58, 146)"/>
<ellipse cx="346.0" cy="146.3" rx="2.4" ry="1.8" transform="rotate(33 346.0 146.3)" fill="rgb(44, 49, 124)"/>
<ellipse cx="345.7" cy="154.9" rx="2.9" ry="2.6" transform="rotate(93 345.7 154.9)" fill="rgb(39, 43, 110)"/>
<ellipse cx="365.0" cy="147.6" rx="2.4" ry="2.2" transform="rotate(134 365.0 147.6)" fill="rgb(49, 55, 138)"/>
<ellipse cx="334.3" cy="146.1" rx="2.5" ry="2.2" transform="rotate(19 334.3 146.1)" fill="rgb(44, 49, 124)"/>
<ellipse cx="369.3" cy="238.2" rx="2.4" ry="1.9" transform="rotate(136 369.3 238.2)" fill="rgb(51, 56, 142)"/>
<ellipse cx="383.3" cy="156.8" rx="2.7" ry="2.2" transform="rotate(144 383.3 156.8)" fill="rgb(45, 51, 128)"/>
<ellipse cx="380.6" cy="147.2" rx="3.0" ry="2.4" transform="rotate(175 380.6 147.2)" fill="rgb(46, 52, 131)"/>
<ellipse cx="342.4" cy="150.7" rx="2.6" ry="2.3" transform="rotate(23 342.4 150.7)" fill="rgb(41, 45, 116)"/>
<ellipse cx="374.0" cy="249.1" rx="2.3" ry="2.2" transform="rotate(109 374.0 249.1)" fill="rgb(49, 54, 137)"/>
<ellipse cx="367.0" cy="248.1" rx="2.7" ry="2.2" transform="rotate(166 367.0 248.1)" fill="rgb(47, 52, 131)"/>
<ellipse cx="383.5" cy="243.0" rx="2.7" ry="2.4" transform="rotate(127 383.5 243.0)" fill="rgb(52, 57, 144)"/>
<ellipse cx="374.2" cy="235.5" rx="2.3" ry="1.7" transform="rotate(127 374.2 235.5)" fill="rgb(47, 52, 132)"/>
<ellipse cx="281.9" cy="249.1" rx="2.5" ry="2.1" transform="rotate(137 281.9 249.1)" fill="rgb(53, 59, 148)"/>
<ellipse cx="339.2" cy="146.9" rx="2.2" ry="2.0" transform="rotate(124 339.2 146.9)" fill="rgb(42, 47, 120)"/>
</g>
<g filter="url(#b4)" fill="#050518" opacity="0.5">
<circle cx="357" cy="194" r="6"/>
<circle cx="318" cy="183" r="4"/>
<circle cx="300" cy="226" r="4"/>
<circle cx="345" cy="160" r="4"/>
<circle cx="372" cy="170" r="3"/>
<circle cx="330" cy="205" r="3"/>
</g>
</g>
<clipPath id="clip12"><rect x="384.5" y="149" width="97.8" height="98"/></clipPath>
<g clip-path="url(#clip12)">
<rect x="384.5" y="149" width="97.8" height="98" fill="#0d0f2c" />
<g filter="url(#b4)" fill="rgb(25,115,70)" opacity="0.5">
<circle cx="426" cy="158" r="11"/>
<circle cx="402" cy="170" r="8"/>
<circle cx="421" cy="182" r="10"/>
<circle cx="428" cy="193" r="8"/>
<circle cx="395" cy="200" r="9"/>
<circle cx="410" cy="204" r="7"/>
<circle cx="462" cy="209" r="9"/>
<circle cx="476" cy="202" r="5"/>
<circle cx="393" cy="232" r="9"/>
<circle cx="398" cy="243" r="7"/>
</g>
<g filter="url(#b06)">
<ellipse cx="430.9" cy="213.4" rx="2.6" ry="2.4" transform="rotate(52 430.9 213.4)" fill="rgb(49, 53, 161)"/>
<ellipse cx="434.3" cy="217.6" rx="2.8" ry="2.6" transform="rotate(123 434.3 217.6)" fill="rgb(51, 56, 168)"/>
<ellipse cx="438.9" cy="223.7" rx="3.0" ry="2.6" transform="rotate(20 438.9 223.7)" fill="rgb(49, 53, 159)"/>
<ellipse cx="439.3" cy="208.7" rx="3.0" ry="2.7" transform="rotate(95 439.3 208.7)" fill="rgb(43, 47, 142)"/>
<ellipse cx="444.9" cy="206.8" rx="3.0" ry="2.4" transform="rotate(164 444.9 206.8)" fill="rgb(38, 112, 114)"/>
<ellipse cx="431.8" cy="206.0" rx="2.7" ry="2.2" transform="rotate(6 431.8 206.0)" fill="rgb(52, 56, 169)"/>
<ellipse cx="443.0" cy="216.3" rx="2.7" ry="2.0" transform="rotate(72 443.0 216.3)" fill="rgb(39, 42, 129)"/>
<ellipse cx="453.2" cy="208.9" rx="2.7" ry="2.1" transform="rotate(63 453.2 208.9)" fill="rgb(39, 95, 118)"/>
<ellipse cx="446.4" cy="195.2" rx="2.7" ry="2.3" transform="rotate(86 446.4 195.2)" fill="rgb(41, 44, 134)"/>
<ellipse cx="451.4" cy="202.8" rx="2.3" ry="2.1" transform="rotate(122 451.4 202.8)" fill="rgb(48, 116, 145)"/>
<ellipse cx="426.4" cy="205.3" rx="2.8" ry="2.5" transform="rotate(31 426.4 205.3)" fill="rgb(50, 55, 165)"/>
<ellipse cx="425.9" cy="211.3" rx="3.4" ry="3.0" transform="rotate(84 425.9 211.3)" fill="rgb(43, 47, 142)"/>
<ellipse cx="418.1" cy="215.4" rx="2.9" ry="2.5" transform="rotate(18 418.1 215.4)" fill="rgb(37, 40, 121)"/>
<ellipse cx="443.8" cy="228.1" rx="3.4" ry="2.7" transform="rotate(153 443.8 228.1)" fill="rgb(39, 42, 127)"/>
<ellipse cx="433.8" cy="201.0" rx="3.0" ry="2.3" transform="rotate(37 433.8 201.0)" fill="rgb(38, 41, 124)"/>
<ellipse cx="439.5" cy="195.7" rx="2.8" ry="2.5" transform="rotate(173 439.5 195.7)" fill="rgb(48, 120, 144)"/>
<ellipse cx="446.8" cy="212.4" rx="2.4" ry="2.2" transform="rotate(19 446.8 212.4)" fill="rgb(42, 108, 125)"/>
<ellipse cx="461.1" cy="208.4" rx="2.9" ry="2.6" transform="rotate(36 461.1 208.4)" fill="rgb(38, 90, 112)"/>
<ellipse cx="422.2" cy="200.7" rx="3.3" ry="2.9" transform="rotate(12 422.2 200.7)" fill="rgb(44, 48, 144)"/>
<ellipse cx="460.3" cy="197.6" rx="2.8" ry="2.2" transform="rotate(20 460.3 197.6)" fill="rgb(46, 50, 151)"/>
<ellipse cx="407.1" cy="228.0" rx="2.7" ry="2.5" transform="rotate(96 407.1 228.0)" fill="rgb(51, 137, 155)"/>
<ellipse cx="450.9" cy="220.3" rx="2.8" ry="2.6" transform="rotate(27 450.9 220.3)" fill="rgb(56, 61, 183)"/>
<ellipse cx="455.7" cy="217.8" rx="2.9" ry="2.5" transform="rotate(40 455.7 217.8)" fill="rgb(36, 39, 120)"/>
<ellipse cx="462.8" cy="213.7" rx="2.4" ry="2.2" transform="rotate(56 462.8 213.7)" fill="rgb(42, 133, 126)"/>
<ellipse cx="401.1" cy="231.6" rx="3.1" ry="2.4" transform="rotate(148 401.1 231.6)" fill="rgb(44, 106, 132)"/>
<ellipse cx="452.1" cy="194.2" rx="2.3" ry="2.0" transform="rotate(93 452.1 194.2)" fill="rgb(47, 51, 153)"/>
<ellipse cx="402.1" cy="224.4" rx="3.1" ry="2.9" transform="rotate(129 402.1 224.4)" fill="rgb(52, 176, 155)"/>
<ellipse cx="447.3" cy="237.1" rx="2.6" ry="2.4" transform="rotate(66 447.3 237.1)" fill="rgb(47, 51, 154)"/>
<ellipse cx="442.9" cy="245.0" rx="3.3" ry="3.0" transform="rotate(3 442.9 245.0)" fill="rgb(50, 55, 165)"/>
<ellipse cx="393.9" cy="228.9" rx="3.4" ry="3.1" transform="rotate(60 393.9 228.9)" fill="rgb(38, 99, 114)"/>
<ellipse cx="412.1" cy="211.2" rx="3.1" ry="2.4" transform="rotate(114 412.1 211.2)" fill="rgb(39, 42, 128)"/>
<ellipse cx="459.1" cy="202.8" rx="3.0" ry="2.8" transform="rotate(40 459.1 202.8)" fill="rgb(45, 48, 147)"/>
<ellipse cx="391.9" cy="221.4" rx="3.0" ry="2.8" transform="rotate(120 391.9 221.4)" fill="rgb(56, 61, 184)"/>
<ellipse cx="438.6" cy="189.6" rx="3.2" ry="2.8" transform="rotate(156 438.6 189.6)" fill="rgb(38, 41, 124)"/>
<ellipse cx="461.5" cy="221.1" rx="2.7" ry="2.0" transform="rotate(167 461.5 221.1)" fill="rgb(41, 45, 136)"/>
<ellipse cx="453.0" cy="188.2" rx="2.5" ry="2.0" transform="rotate(12 453.0 188.2)" fill="rgb(40, 43, 131)"/>
<ellipse cx="406.6" cy="216.7" rx="2.7" ry="2.6" transform="rotate(125 406.6 216.7)" fill="rgb(55, 59, 178)"/>
<ellipse cx="397.6" cy="218.1" rx="2.7" ry="2.4" transform="rotate(27 397.6 218.1)" fill="rgb(56, 60, 181)"/>
<ellipse cx="417.2" cy="208.2" rx="2.9" ry="2.4" transform="rotate(102 417.2 208.2)" fill="rgb(55, 60, 179)"/>
<ellipse cx="459.7" cy="190.2" rx="2.9" ry="2.3" transform="rotate(69 459.7 190.2)" fill="rgb(45, 48, 147)"/>
<ellipse cx="467.0" cy="217.6" rx="2.7" ry="2.2" transform="rotate(94 467.0 217.6)" fill="rgb(45, 49, 148)"/>
<ellipse cx="396.9" cy="237.8" rx="3.2" ry="2.6" transform="rotate(14 396.9 237.8)" fill="rgb(40, 128, 119)"/>
<ellipse cx="456.8" cy="226.5" rx="2.8" ry="2.6" transform="rotate(46 456.8 226.5)" fill="rgb(41, 44, 133)"/>
<ellipse cx="391.7" cy="234.4" rx="2.6" ry="2.1" transform="rotate(40 391.7 234.4)" fill="rgb(52, 168, 157)"/>
<ellipse cx="445.6" cy="188.5" rx="2.4" ry="2.2" transform="rotate(90 445.6 188.5)" fill="rgb(43, 46, 140)"/>
<ellipse cx="471.8" cy="221.4" rx="3.0" ry="2.7" transform="rotate(157 471.8 221.4)" fill="rgb(38, 41, 124)"/>
<ellipse cx="391.7" cy="214.3" rx="3.4" ry="3.1" transform="rotate(55 391.7 214.3)" fill="rgb(43, 47, 142)"/>
<ellipse cx="430.9" cy="186.8" rx="2.6" ry="2.2" transform="rotate(82 430.9 186.8)" fill="rgb(38, 101, 112)"/>
<ellipse cx="469.9" cy="195.8" rx="2.9" ry="2.4" transform="rotate(121 469.9 195.8)" fill="rgb(38, 41, 125)"/>
<ellipse cx="468.8" cy="201.9" rx="2.9" ry="2.6" transform="rotate(152 468.8 201.9)" fill="rgb(37, 40, 121)"/>
<ellipse cx="401.6" cy="214.6" rx="2.8" ry="2.3" transform="rotate(4 401.6 214.6)" fill="rgb(41, 45, 135)"/>
<ellipse cx="454.4" cy="183.0" rx="2.6" ry="2.2" transform="rotate(82 454.4 183.0)" fill="rgb(51, 56, 168)"/>
<ellipse cx="430.1" cy="180.9" rx="2.7" ry="2.4" transform="rotate(95 430.1 180.9)" fill="rgb(52, 56, 169)"/>
<ellipse cx="453.9" cy="234.4" rx="2.7" ry="2.4" transform="rotate(148 453.9 234.4)" fill="rgb(48, 52, 158)"/>
<ellipse cx="450.3" cy="228.7" rx="2.3" ry="2.1" transform="rotate(96 450.3 228.7)" fill="rgb(41, 44, 134)"/>
<ellipse cx="385.9" cy="214.3" rx="2.9" ry="2.3" transform="rotate(32 385.9 214.3)" fill="rgb(44, 48, 145)"/>
<ellipse cx="401.1" cy="208.7" rx="3.3" ry="2.7" transform="rotate(21 401.1 208.7)" fill="rgb(41, 97, 122)"/>
<ellipse cx="449.9" cy="246.1" rx="3.0" ry="2.3" transform="rotate(165 449.9 246.1)" fill="rgb(43, 47, 142)"/>
<ellipse cx="403.4" cy="241.1" rx="2.8" ry="2.3" transform="rotate(149 403.4 241.1)" fill="rgb(37, 40, 122)"/>
<ellipse cx="387.8" cy="229.3" rx="3.0" ry="2.7" transform="rotate(81 387.8 229.3)" fill="rgb(38, 107, 113)"/>
<ellipse cx="405.6" cy="246.8" rx="3.3" ry="3.0" transform="rotate(54 405.6 246.8)" fill="rgb(44, 47, 143)"/>
<ellipse cx="453.6" cy="239.9" rx="2.5" ry="1.8" transform="rotate(37 453.6 239.9)" fill="rgb(51, 55, 167)"/>
<ellipse cx="457.4" cy="244.3" rx="2.8" ry="2.6" transform="rotate(131 457.4 244.3)" fill="rgb(38, 41, 126)"/>
<ellipse cx="423.5" cy="180.5" rx="3.1" ry="2.5" transform="rotate(82 423.5 180.5)" fill="rgb(47, 132, 140)"/>
<ellipse cx="395.8" cy="207.9" rx="3.3" ry="2.8" transform="rotate(130 395.8 207.9)" fill="rgb(51, 56, 167)"/>
<ellipse cx="386.6" cy="219.6" rx="3.3" ry="2.8" transform="rotate(44 386.6 219.6)" fill="rgb(38, 41, 125)"/>
<ellipse cx="472.3" cy="210.6" rx="2.5" ry="2.2" transform="rotate(165 472.3 210.6)" fill="rgb(38, 40, 123)"/>
<ellipse cx="464.0" cy="228.4" rx="2.3" ry="2.0" transform="rotate(140 464.0 228.4)" fill="rgb(39, 42, 127)"/>
<ellipse cx="444.7" cy="222.3" rx="2.6" ry="2.4" transform="rotate(155 444.7 222.3)" fill="rgb(52, 57, 170)"/>
<ellipse cx="391.8" cy="241.2" rx="2.8" ry="2.4" transform="rotate(111 391.8 241.2)" fill="rgb(44, 130, 132)"/>
<ellipse cx="394.8" cy="246.0" rx="3.4" ry="3.1" transform="rotate(108 394.8 246.0)" fill="rgb(48, 143, 145)"/>
<ellipse cx="399.9" cy="249.6" rx="3.0" ry="2.3" transform="rotate(123 399.9 249.6)" fill="rgb(50, 54, 164)"/>
<ellipse cx="386.3" cy="243.4" rx="3.2" ry="2.5" transform="rotate(155 386.3 243.4)" fill="rgb(50, 54, 163)"/>
<ellipse cx="408.7" cy="202.7" rx="2.8" ry="2.4" transform="rotate(28 408.7 202.7)" fill="rgb(46, 50, 152)"/>
<ellipse cx="460.6" cy="233.9" rx="2.5" ry="2.3" transform="rotate(18 460.6 233.9)" fill="rgb(42, 46, 139)"/>
<ellipse cx="478.5" cy="200.8" rx="3.0" ry="2.7" transform="rotate(160 478.5 200.8)" fill="rgb(36, 104, 105)"/>
<ellipse cx="424.9" cy="195.3" rx="3.4" ry="2.8" transform="rotate(81 424.9 195.3)" fill="rgb(51, 55, 166)"/>
<ellipse cx="414.7" cy="193.9" rx="3.3" ry="2.8" transform="rotate(79 414.7 193.9)" fill="rgb(36, 82, 106)"/>
<ellipse cx="461.0" cy="183.2" rx="2.6" ry="2.5" transform="rotate(122 461.0 183.2)" fill="rgb(40, 43, 131)"/>
<ellipse cx="420.1" cy="192.5" rx="2.7" ry="2.0" transform="rotate(110 420.1 192.5)" fill="rgb(49, 119, 149)"/>
<ellipse cx="460.7" cy="248.9" rx="2.4" ry="2.2" transform="rotate(79 460.7 248.9)" fill="rgb(50, 54, 163)"/>
<ellipse cx="406.0" cy="195.1" rx="2.6" ry="2.3" transform="rotate(71 406.0 195.1)" fill="rgb(51, 126, 154)"/>
<ellipse cx="406.5" cy="208.0" rx="3.4" ry="2.8" transform="rotate(89 406.5 208.0)" fill="rgb(43, 106, 131)"/>
<ellipse cx="402.5" cy="200.1" rx="2.7" ry="2.2" transform="rotate(111 402.5 200.1)" fill="rgb(45, 49, 148)"/>
<ellipse cx="431.3" cy="193.5" rx="3.3" ry="2.9" transform="rotate(32 431.3 193.5)" fill="rgb(51, 156, 152)"/>
<ellipse cx="415.9" cy="199.1" rx="2.6" ry="2.3" transform="rotate(167 415.9 199.1)" fill="rgb(48, 159, 143)"/>
<ellipse cx="388.4" cy="209.0" rx="3.3" ry="3.0" transform="rotate(4 388.4 209.0)" fill="rgb(43, 46, 141)"/>
<ellipse cx="476.7" cy="218.3" rx="2.8" ry="2.5" transform="rotate(84 476.7 218.3)" fill="rgb(53, 58, 175)"/>
<ellipse cx="476.8" cy="228.5" rx="2.8" ry="2.2" transform="rotate(100 476.8 228.5)" fill="rgb(46, 50, 152)"/>
<ellipse cx="387.4" cy="237.6" rx="3.3" ry="3.0" transform="rotate(85 387.4 237.6)" fill="rgb(38, 98, 113)"/>
<ellipse cx="381.7" cy="238.3" rx="3.2" ry="2.6" transform="rotate(145 381.7 238.3)" fill="rgb(53, 58, 174)"/>
<ellipse cx="428.4" cy="200.1" rx="2.7" ry="2.1" transform="rotate(53 428.4 200.1)" fill="rgb(50, 55, 165)"/>
<ellipse cx="395.5" cy="200.9" rx="3.4" ry="2.7" transform="rotate(154 395.5 200.9)" fill="rgb(37, 86, 111)"/>
<ellipse cx="466.3" cy="206.9" rx="2.7" ry="2.4" transform="rotate(71 466.3 206.9)" fill="rgb(46, 143, 139)"/>
<ellipse cx="388.6" cy="202.8" rx="2.8" ry="2.4" transform="rotate(176 388.6 202.8)" fill="rgb(48, 159, 143)"/>
<ellipse cx="480.9" cy="212.0" rx="2.7" ry="2.1" transform="rotate(88 480.9 212.0)" fill="rgb(43, 46, 141)"/>
<ellipse cx="418.7" cy="186.9" rx="3.2" ry="2.8" transform="rotate(170 418.7 186.9)" fill="rgb(47, 144, 140)"/>
<ellipse cx="404.9" cy="187.8" rx="3.1" ry="2.8" transform="rotate(120 404.9 187.8)" fill="rgb(38, 41, 126)"/>
<ellipse cx="483.6" cy="223.6" rx="2.3" ry="2.1" transform="rotate(84 483.6 223.6)" fill="rgb(41, 45, 136)"/>
<ellipse cx="457.5" cy="212.6" rx="2.7" ry="2.3" transform="rotate(142 457.5 212.6)" fill="rgb(41, 112, 121)"/>
<ellipse cx="462.9" cy="239.5" rx="2.7" ry="2.1" transform="rotate(26 462.9 239.5)" fill="rgb(50, 54, 162)"/>
<ellipse cx="479.3" cy="206.7" rx="2.5" ry="2.2" transform="rotate(75 479.3 206.7)" fill="rgb(40, 98, 120)"/>
<ellipse cx="436.9" cy="176.6" rx="3.3" ry="2.8" transform="rotate(96 436.9 176.6)" fill="rgb(55, 60, 180)"/>
<ellipse cx="384.3" cy="249.3" rx="3.1" ry="2.7" transform="rotate(68 384.3 249.3)" fill="rgb(39, 42, 127)"/>
<ellipse cx="412.6" cy="187.4" rx="2.9" ry="2.4" transform="rotate(97 412.6 187.4)" fill="rgb(37, 97, 110)"/>
<ellipse cx="482.4" cy="218.3" rx="2.5" ry="2.3" transform="rotate(175 482.4 218.3)" fill="rgb(53, 58, 174)"/>
<ellipse cx="470.1" cy="230.1" rx="2.3" ry="2.0" transform="rotate(99 470.1 230.1)" fill="rgb(55, 60, 180)"/>
<ellipse cx="474.0" cy="205.4" rx="3.0" ry="2.3" transform="rotate(114 474.0 205.4)" fill="rgb(54, 58, 175)"/>
<ellipse cx="474.6" cy="186.0" rx="2.6" ry="2.0" transform="rotate(110 474.6 186.0)" fill="rgb(44, 48, 144)"/>
<ellipse cx="442.9" cy="182.5" rx="2.8" ry="2.4" transform="rotate(143 442.9 182.5)" fill="rgb(51, 56, 168)"/>
<ellipse cx="381.9" cy="228.5" rx="3.1" ry="2.8" transform="rotate(77 381.9 228.5)" fill="rgb(53, 57, 172)"/>
<ellipse cx="468.9" cy="236.9" rx="2.9" ry="2.6" transform="rotate(123 468.9 236.9)" fill="rgb(43, 47, 142)"/>
<ellipse cx="425.8" cy="174.1" rx="3.3" ry="2.8" transform="rotate(84 425.8 174.1)" fill="rgb(43, 112, 130)"/>
<ellipse cx="469.9" cy="182.0" rx="2.4" ry="2.0" transform="rotate(162 469.9 182.0)" fill="rgb(48, 52, 156)"/>
<ellipse cx="388.0" cy="230.1" rx="3.3" ry="2.6" transform="rotate(106 388.0 230.1)" fill="rgb(42, 128, 127)"/>
<ellipse cx="387.3" cy="238.0" rx="2.7" ry="2.0" transform="rotate(139 387.3 238.0)" fill="rgb(51, 137, 155)"/>
<ellipse cx="431.3" cy="168.4" rx="3.1" ry="2.6" transform="rotate(60 431.3 168.4)" fill="rgb(38, 41, 125)"/>
<ellipse cx="484.8" cy="202.0" rx="2.8" ry="2.4" transform="rotate(11 484.8 202.0)" fill="rgb(45, 48, 147)"/>
<ellipse cx="381.7" cy="240.1" rx="3.3" ry="2.6" transform="rotate(94 381.7 240.1)" fill="rgb(52, 57, 170)"/>
<ellipse cx="474.9" cy="236.3" rx="2.6" ry="2.3" transform="rotate(38 474.9 236.3)" fill="rgb(50, 54, 163)"/>
<ellipse cx="383.6" cy="224.8" rx="3.1" ry="2.8" transform="rotate(98 383.6 224.8)" fill="rgb(48, 53, 159)"/>
<ellipse cx="399.9" cy="194.0" rx="2.8" ry="2.6" transform="rotate(24 399.9 194.0)" fill="rgb(37, 40, 121)"/>
<ellipse cx="467.7" cy="242.9" rx="2.9" ry="2.3" transform="rotate(55 467.7 242.9)" fill="rgb(50, 54, 163)"/>
<ellipse cx="396.4" cy="185.6" rx="3.4" ry="2.8" transform="rotate(56 396.4 185.6)" fill="rgb(55, 59, 178)"/>
<ellipse cx="381.8" cy="231.2" rx="3.3" ry="3.0" transform="rotate(100 381.8 231.2)" fill="rgb(54, 59, 177)"/>
<ellipse cx="398.2" cy="180.6" rx="3.3" ry="2.7" transform="rotate(8 398.2 180.6)" fill="rgb(38, 40, 124)"/>
<ellipse cx="409.1" cy="178.5" rx="3.1" ry="2.7" transform="rotate(7 409.1 178.5)" fill="rgb(50, 55, 165)"/>
<ellipse cx="423.9" cy="188.4" rx="3.3" ry="3.0" transform="rotate(168 423.9 188.4)" fill="rgb(48, 153, 143)"/>
<ellipse cx="386.9" cy="229.1" rx="3.2" ry="2.9" transform="rotate(46 386.9 229.1)" fill="rgb(43, 122, 130)"/>
<ellipse cx="436.5" cy="182.9" rx="2.6" ry="2.0" transform="rotate(41 436.5 182.9)" fill="rgb(40, 44, 133)"/>
<ellipse cx="382.4" cy="232.1" rx="2.8" ry="2.5" transform="rotate(113 382.4 232.1)" fill="rgb(40, 94, 120)"/>
<ellipse cx="438.6" cy="168.5" rx="2.8" ry="2.7" transform="rotate(91 438.6 168.5)" fill="rgb(44, 48, 144)"/>
<ellipse cx="441.9" cy="174.6" rx="2.8" ry="2.6" transform="rotate(7 441.9 174.6)" fill="rgb(55, 60, 180)"/>
<ellipse cx="438.3" cy="159.2" rx="3.2" ry="2.5" transform="rotate(12 438.3 159.2)" fill="rgb(50, 145, 151)"/>
<ellipse cx="483.2" cy="192.8" rx="2.4" ry="2.3" transform="rotate(128 483.2 192.8)" fill="rgb(54, 59, 176)"/>
<ellipse cx="392.5" cy="178.2" rx="2.9" ry="2.5" transform="rotate(42 392.5 178.2)" fill="rgb(39, 42, 128)"/>
<ellipse cx="385.3" cy="183.9" rx="2.8" ry="2.2" transform="rotate(44 385.3 183.9)" fill="rgb(45, 49, 148)"/>
<ellipse cx="475.7" cy="241.6" rx="2.4" ry="2.0" transform="rotate(113 475.7 241.6)" fill="rgb(48, 53, 159)"/>
<ellipse cx="387.6" cy="192.6" rx="2.5" ry="2.1" transform="rotate(25 387.6 192.6)" fill="rgb(47, 140, 143)"/>
<ellipse cx="421.9" cy="168.3" rx="2.7" ry="2.2" transform="rotate(2 421.9 168.3)" fill="rgb(37, 104, 110)"/>
<ellipse cx="390.4" cy="186.2" rx="3.0" ry="2.4" transform="rotate(157 390.4 186.2)" fill="rgb(54, 59, 178)"/>
<ellipse cx="381.8" cy="190.3" rx="3.1" ry="2.8" transform="rotate(101 381.8 190.3)" fill="rgb(45, 49, 149)"/>
<ellipse cx="454.4" cy="177.3" rx="2.8" ry="2.2" transform="rotate(76 454.4 177.3)" fill="rgb(42, 45, 137)"/>
<ellipse cx="387.9" cy="193.9" rx="3.1" ry="2.6" transform="rotate(92 387.9 193.9)" fill="rgb(51, 162, 154)"/>
<ellipse cx="475.2" cy="196.1" rx="2.5" ry="2.0" transform="rotate(0 475.2 196.1)" fill="rgb(46, 114, 138)"/>
<ellipse cx="444.8" cy="168.9" rx="3.0" ry="2.3" transform="rotate(163 444.8 168.9)" fill="rgb(49, 53, 160)"/>
<ellipse cx="449.1" cy="183.8" rx="2.2" ry="1.9" transform="rotate(90 449.1 183.8)" fill="rgb(40, 43, 132)"/>
<ellipse cx="478.2" cy="190.2" rx="2.4" ry="2.0" transform="rotate(36 478.2 190.2)" fill="rgb(44, 48, 144)"/>
<ellipse cx="464.8" cy="192.5" rx="2.9" ry="2.3" transform="rotate(165 464.8 192.5)" fill="rgb(51, 55, 166)"/>
<ellipse cx="451.1" cy="170.2" rx="2.9" ry="2.3" transform="rotate(66 451.1 170.2)" fill="rgb(36, 39, 119)"/>
<ellipse cx="466.0" cy="186.1" rx="2.2" ry="1.9" transform="rotate(115 466.0 186.1)" fill="rgb(46, 50, 151)"/>
<ellipse cx="472.1" cy="173.5" rx="2.3" ry="1.8" transform="rotate(117 472.1 173.5)" fill="rgb(40, 44, 133)"/>
<ellipse cx="461.0" cy="176.6" rx="2.6" ry="2.1" transform="rotate(116 461.0 176.6)" fill="rgb(40, 43, 130)"/>
<ellipse cx="401.3" cy="171.6" rx="3.1" ry="2.5" transform="rotate(158 401.3 171.6)" fill="rgb(42, 117, 127)"/>
<ellipse cx="414.1" cy="180.5" rx="2.7" ry="2.2" transform="rotate(16 414.1 180.5)" fill="rgb(51, 146, 154)"/>
<ellipse cx="476.6" cy="181.0" rx="2.2" ry="1.9" transform="rotate(87 476.6 181.0)" fill="rgb(56, 61, 182)"/>
<ellipse cx="467.3" cy="175.9" rx="2.2" ry="1.8" transform="rotate(55 467.3 175.9)" fill="rgb(50, 54, 163)"/>
<ellipse cx="484.7" cy="184.4" rx="2.3" ry="2.1" transform="rotate(138 484.7 184.4)" fill="rgb(51, 55, 167)"/>
<ellipse cx="453.6" cy="164.4" rx="2.3" ry="1.8" transform="rotate(23 453.6 164.4)" fill="rgb(45, 49, 147)"/>
<ellipse cx="382.2" cy="199.3" rx="3.0" ry="2.7" transform="rotate(64 382.2 199.3)" fill="rgb(48, 116, 144)"/>
<ellipse cx="461.6" cy="171.3" rx="2.9" ry="2.2" transform="rotate(161 461.6 171.3)" fill="rgb(52, 57, 171)"/>
<ellipse cx="484.7" cy="178.6" rx="2.7" ry="2.2" transform="rotate(173 484.7 178.6)" fill="rgb(56, 61, 183)"/>
<ellipse cx="390.3" cy="169.6" rx="3.3" ry="2.5" transform="rotate(172 390.3 169.6)" fill="rgb(52, 56, 169)"/>
<ellipse cx="480.1" cy="247.4" rx="2.8" ry="2.3" transform="rotate(113 480.1 247.4)" fill="rgb(42, 46, 138)"/>
<ellipse cx="478.2" cy="174.4" rx="2.3" ry="1.8" transform="rotate(139 478.2 174.4)" fill="rgb(56, 61, 184)"/>
<ellipse cx="474.8" cy="163.7" rx="2.3" ry="1.9" transform="rotate(58 474.8 163.7)" fill="rgb(54, 59, 177)"/>
<ellipse cx="428.2" cy="161.8" rx="2.8" ry="2.6" transform="rotate(0 428.2 161.8)" fill="rgb(38, 41, 125)"/>
<ellipse cx="464.9" cy="164.4" rx="2.8" ry="2.3" transform="rotate(77 464.9 164.4)" fill="rgb(46, 49, 149)"/>
<ellipse cx="435.7" cy="164.1" rx="2.5" ry="2.1" transform="rotate(153 435.7 164.1)" fill="rgb(41, 115, 124)"/>
<ellipse cx="432.3" cy="158.4" rx="3.1" ry="2.7" transform="rotate(43 432.3 158.4)" fill="rgb(51, 178, 154)"/>
<ellipse cx="447.0" cy="160.8" rx="2.4" ry="1.8" transform="rotate(84 447.0 160.8)" fill="rgb(43, 46, 140)"/>
<ellipse cx="468.8" cy="168.1" rx="2.9" ry="2.3" transform="rotate(165 468.8 168.1)" fill="rgb(42, 45, 137)"/>
<ellipse cx="422.1" cy="155.4" rx="2.6" ry="2.0" transform="rotate(114 422.1 155.4)" fill="rgb(40, 129, 118)"/>
<ellipse cx="431.3" cy="175.3" rx="2.6" ry="2.2" transform="rotate(6 431.3 175.3)" fill="rgb(48, 52, 158)"/>
<ellipse cx="473.0" cy="248.7" rx="2.2" ry="1.7" transform="rotate(153 473.0 248.7)" fill="rgb(47, 51, 153)"/>
<ellipse cx="397.7" cy="163.7" rx="3.1" ry="2.6" transform="rotate(146 397.7 163.7)" fill="rgb(42, 121, 125)"/>
<ellipse cx="406.7" cy="170.1" rx="2.9" ry="2.4" transform="rotate(11 406.7 170.1)" fill="rgb(37, 104, 110)"/>
<ellipse cx="442.0" cy="155.2" rx="3.0" ry="2.7" transform="rotate(47 442.0 155.2)" fill="rgb(47, 51, 154)"/>
<ellipse cx="385.1" cy="174.4" rx="2.9" ry="2.7" transform="rotate(159 385.1 174.4)" fill="rgb(54, 58, 176)"/>
<ellipse cx="415.0" cy="170.9" rx="3.3" ry="2.8" transform="rotate(113 415.0 170.9)" fill="rgb(43, 46, 140)"/>
<ellipse cx="422.8" cy="162.4" rx="2.7" ry="2.4" transform="rotate(40 422.8 162.4)" fill="rgb(35, 101, 105)"/>
<ellipse cx="403.4" cy="163.1" rx="2.6" ry="2.2" transform="rotate(98 403.4 163.1)" fill="rgb(42, 111, 126)"/>
<ellipse cx="454.3" cy="155.2" rx="2.8" ry="2.5" transform="rotate(71 454.3 155.2)" fill="rgb(42, 45, 137)"/>
<ellipse cx="478.4" cy="155.6" rx="2.6" ry="2.2" transform="rotate(146 478.4 155.6)" fill="rgb(41, 44, 133)"/>
<ellipse cx="416.3" cy="157.6" rx="2.7" ry="2.4" transform="rotate(10 416.3 157.6)" fill="rgb(34, 94, 101)"/>
<ellipse cx="418.9" cy="177.8" rx="2.6" ry="1.9" transform="rotate(99 418.9 177.8)" fill="rgb(40, 126, 118)"/>
<ellipse cx="437.0" cy="148.3" rx="2.8" ry="2.1" transform="rotate(51 437.0 148.3)" fill="rgb(54, 59, 178)"/>
<ellipse cx="453.6" cy="147.6" rx="2.7" ry="2.5" transform="rotate(118 453.6 147.6)" fill="rgb(44, 47, 143)"/>
<ellipse cx="458.8" cy="166.3" rx="2.3" ry="2.2" transform="rotate(163 458.8 166.3)" fill="rgb(44, 47, 143)"/>
<ellipse cx="481.6" cy="169.4" rx="2.3" ry="1.7" transform="rotate(0 481.6 169.4)" fill="rgb(50, 55, 165)"/>
<ellipse cx="432.3" cy="152.3" rx="2.7" ry="2.2" transform="rotate(110 432.3 152.3)" fill="rgb(52, 140, 159)"/>
<ellipse cx="446.7" cy="146.1" rx="2.7" ry="2.3" transform="rotate(28 446.7 146.1)" fill="rgb(56, 61, 183)"/>
<ellipse cx="466.8" cy="248.5" rx="2.4" ry="2.0" transform="rotate(70 466.8 248.5)" fill="rgb(50, 55, 164)"/>
<ellipse cx="463.7" cy="158.1" rx="2.6" ry="2.3" transform="rotate(15 463.7 158.1)" fill="rgb(45, 49, 148)"/>
<ellipse cx="470.4" cy="157.7" rx="2.5" ry="1.9" transform="rotate(172 470.4 157.7)" fill="rgb(45, 49, 149)"/>
<ellipse cx="383.2" cy="168.3" rx="2.7" ry="2.4" transform="rotate(48 383.2 168.3)" fill="rgb(44, 48, 144)"/>
<ellipse cx="396.0" cy="157.7" rx="3.1" ry="2.4" transform="rotate(99 396.0 157.7)" fill="rgb(53, 58, 174)"/>
<ellipse cx="426.6" cy="151.9" rx="3.1" ry="2.8" transform="rotate(27 426.6 151.9)" fill="rgb(48, 125, 144)"/>
<ellipse cx="449.7" cy="151.5" rx="2.6" ry="2.3" transform="rotate(118 449.7 151.5)" fill="rgb(44, 48, 145)"/>
<ellipse cx="427.3" cy="146.2" rx="2.8" ry="2.7" transform="rotate(156 427.3 146.2)" fill="rgb(43, 46, 141)"/>
<ellipse cx="400.1" cy="150.9" rx="2.7" ry="2.3" transform="rotate(40 400.1 150.9)" fill="rgb(56, 61, 183)"/>
<ellipse cx="461.1" cy="151.5" rx="2.7" ry="2.3" transform="rotate(129 461.1 151.5)" fill="rgb(48, 52, 157)"/>
<ellipse cx="393.0" cy="148.5" rx="2.6" ry="2.4" transform="rotate(60 393.0 148.5)" fill="rgb(43, 46, 140)"/>
<ellipse cx="406.1" cy="148.7" rx="3.0" ry="2.3" transform="rotate(114 406.1 148.7)" fill="rgb(46, 49, 149)"/>
<ellipse cx="458.8" cy="160.6" rx="2.7" ry="2.4" transform="rotate(33 458.8 160.6)" fill="rgb(52, 57, 171)"/>
<ellipse cx="466.8" cy="152.0" rx="2.5" ry="2.2" transform="rotate(59 466.8 152.0)" fill="rgb(45, 49, 148)"/>
<ellipse cx="441.8" cy="163.9" rx="3.3" ry="2.8" transform="rotate(40 441.8 163.9)" fill="rgb(56, 61, 184)"/>
<ellipse cx="416.7" cy="149.7" rx="3.0" ry="2.5" transform="rotate(13 416.7 149.7)" fill="rgb(49, 131, 149)"/>
<ellipse cx="409.0" cy="161.4" rx="2.7" ry="2.4" transform="rotate(50 409.0 161.4)" fill="rgb(50, 55, 165)"/>
<ellipse cx="386.7" cy="164.2" rx="2.6" ry="2.1" transform="rotate(90 386.7 164.2)" fill="rgb(36, 39, 120)"/>
<ellipse cx="474.3" cy="148.7" rx="2.9" ry="2.5" transform="rotate(113 474.3 148.7)" fill="rgb(55, 60, 180)"/>
<ellipse cx="387.5" cy="148.9" rx="2.9" ry="2.6" transform="rotate(117 387.5 148.9)" fill="rgb(54, 59, 176)"/>
<ellipse cx="381.9" cy="158.6" rx="2.6" ry="2.1" transform="rotate(66 381.9 158.6)" fill="rgb(55, 59, 179)"/>
<ellipse cx="402.2" cy="157.6" rx="3.3" ry="2.5" transform="rotate(136 402.2 157.6)" fill="rgb(50, 55, 164)"/>
<ellipse cx="480.8" cy="160.4" rx="2.5" ry="1.9" transform="rotate(92 480.8 160.4)" fill="rgb(56, 61, 182)"/>
<ellipse cx="484.5" cy="151.9" rx="2.7" ry="2.2" transform="rotate(163 484.5 151.9)" fill="rgb(52, 56, 169)"/>
<ellipse cx="389.6" cy="159.3" rx="2.7" ry="2.4" transform="rotate(159 389.6 159.3)" fill="rgb(50, 54, 163)"/>
<ellipse cx="382.2" cy="151.4" rx="2.8" ry="2.6" transform="rotate(116 382.2 151.4)" fill="rgb(47, 51, 155)"/>
<ellipse cx="421.6" cy="146.4" rx="3.1" ry="2.3" transform="rotate(64 421.6 146.4)" fill="rgb(41, 44, 134)"/>
<ellipse cx="412.0" cy="152.5" rx="2.8" ry="2.6" transform="rotate(97 412.0 152.5)" fill="rgb(55, 60, 179)"/>
<ellipse cx="389.4" cy="152.6" rx="3.2" ry="2.7" transform="rotate(75 389.4 152.6)" fill="rgb(52, 56, 170)"/>
<ellipse cx="385.9" cy="146.6" rx="2.6" ry="2.3" transform="rotate(16 385.9 146.6)" fill="rgb(38, 41, 126)"/>
<ellipse cx="412.2" cy="146.5" rx="2.8" ry="2.2" transform="rotate(84 412.2 146.5)" fill="rgb(50, 55, 164)"/>
<ellipse cx="381.7" cy="152.7" rx="2.9" ry="2.6" transform="rotate(16 381.7 152.7)" fill="rgb(40, 43, 132)"/>
<ellipse cx="384.1" cy="147.9" rx="3.2" ry="2.4" transform="rotate(178 384.1 147.9)" fill="rgb(41, 44, 134)"/>
<ellipse cx="442.4" cy="149.7" rx="3.3" ry="3.1" transform="rotate(81 442.4 149.7)" fill="rgb(46, 50, 152)"/>
<ellipse cx="403.9" cy="179.5" rx="2.6" ry="2.4" transform="rotate(58 403.9 179.5)" fill="rgb(37, 40, 123)"/>
<ellipse cx="426.9" cy="152.5" rx="3.2" ry="3.0" transform="rotate(56 426.9 152.5)" fill="rgb(38, 97, 115)"/>
<ellipse cx="428.2" cy="146.2" rx="2.8" ry="2.5" transform="rotate(159 428.2 146.2)" fill="rgb(49, 53, 160)"/>
<ellipse cx="426.1" cy="151.7" rx="2.8" ry="2.7" transform="rotate(8 426.1 151.7)" fill="rgb(51, 138, 155)"/>
</g>
</g>
<text x="332" y="144.4" font-size="9.2" text-anchor="middle" font-weight="normal" fill="#111" stroke="#111" stroke-width="0.3" >0 μg/mL Dox</text>
<text x="433.5" y="144.4" font-size="9.2" text-anchor="middle" font-weight="normal" fill="#111" stroke="#111" stroke-width="0.3" >1 μg/mL Dox</text>
<text x="286.9" y="232.4" font-size="8.8" text-anchor="start" font-weight="normal" fill="#34a860" stroke="#34a860" stroke-width="0.3" >A3B-HA</text>
<text x="286.9" y="241.3" font-size="8.8" text-anchor="start" font-weight="normal" fill="#2f80d8" stroke="#2f80d8" stroke-width="0.3" >DAPI</text>
<text x="365.3" y="236.3" font-size="8.8" text-anchor="middle" font-weight="normal" fill="#fff" stroke="#fff" stroke-width="0.3" >20 μm</text>
<rect x="363" y="240" width="10.7" height="3" fill="#fff" />
<text x="468" y="236.3" font-size="8.8" text-anchor="middle" font-weight="normal" fill="#fff" stroke="#fff" stroke-width="0.3" >20 μm</text>
<rect x="464.5" y="240" width="10" height="3" fill="#fff" />
<line x1="301.5" y1="267.5" x2="301.5" y2="367.40000000000003" stroke="#2b2b2b" stroke-width="1.2"/>
<line x1="300.4" y1="366.5" x2="451.3" y2="366.5" stroke="#2b2b2b" stroke-width="1.2"/>
<line x1="297.5" y1="366.5" x2="301.0" y2="366.5" stroke="#2b2b2b" stroke-width="1.1"/>
<text x="296.0" y="369.3" font-size="7.2" text-anchor="end" font-weight="normal" fill="#111" stroke="#111" stroke-width="0.3" >0</text>
<line x1="297.5" y1="346.5" x2="301.0" y2="346.5" stroke="#2b2b2b" stroke-width="1.1"/>
<text x="296.0" y="349.44" font-size="7.2" text-anchor="end" font-weight="normal" fill="#111" stroke="#111" stroke-width="0.3" >2</text>
<line x1="297.5" y1="327.5" x2="301.0" y2="327.5" stroke="#2b2b2b" stroke-width="1.1"/>
<text x="296.0" y="329.58000000000004" font-size="7.2" text-anchor="end" font-weight="normal" fill="#111" stroke="#111" stroke-width="0.3" >4</text>
<line x1="297.5" y1="307.5" x2="301.0" y2="307.5" stroke="#2b2b2b" stroke-width="1.1"/>
<text x="296.0" y="309.72" font-size="7.2" text-anchor="end" font-weight="normal" fill="#111" stroke="#111" stroke-width="0.3" >6</text>
<line x1="297.5" y1="287.5" x2="301.0" y2="287.5" stroke="#2b2b2b" stroke-width="1.1"/>
<text x="296.0" y="289.86" font-size="7.2" text-anchor="end" font-weight="normal" fill="#111" stroke="#111" stroke-width="0.3" >8</text>
<line x1="297.5" y1="267.5" x2="301.0" y2="267.5" stroke="#2b2b2b" stroke-width="1.1"/>
<text x="296.0" y="270.0" font-size="7.2" text-anchor="end" font-weight="normal" fill="#111" stroke="#111" stroke-width="0.3" >10</text>
<line x1="301.5" y1="366.8" x2="301.5" y2="370.3" stroke="#2b2b2b" stroke-width="1.1"/>
<text x="301.0" y="378.40000000000003" font-size="7.6" text-anchor="middle" font-weight="normal" fill="#111" stroke="#111" stroke-width="0.3" >0</text>
<line x1="350.5" y1="366.8" x2="350.5" y2="370.3" stroke="#2b2b2b" stroke-width="1.1"/>
<text x="350.84000000000003" y="378.40000000000003" font-size="7.6" text-anchor="middle" font-weight="normal" fill="#111" stroke="#111" stroke-width="0.3" >2</text>
<line x1="400.5" y1="366.8" x2="400.5" y2="370.3" stroke="#2b2b2b" stroke-width="1.1"/>
<text x="400.68" y="378.40000000000003" font-size="7.6" text-anchor="middle" font-weight="normal" fill="#111" stroke="#111" stroke-width="0.3" >4</text>
<line x1="450.5" y1="366.8" x2="450.5" y2="370.3" stroke="#2b2b2b" stroke-width="1.1"/>
<text x="450.52" y="378.40000000000003" font-size="7.6" text-anchor="middle" font-weight="normal" fill="#111" stroke="#111" stroke-width="0.3" >6</text>
<text x="376" y="388.7" font-size="9.2" text-anchor="middle" font-weight="normal" fill="#111" stroke="#111" stroke-width="0.3" >Day</text>
<text x="0" y="0" font-size="8.8" text-anchor="middle" font-weight="normal" fill="#111" stroke="#111" stroke-width="0.3" transform="translate(285.1,317.5) rotate(-90)">Relative cell number</text>
<polyline points="325.9,356.9 375.8,333.5 425.6,313.8" fill="none" stroke="#78d2f6" stroke-width="1.25"/>
<polyline points="325.9,356.9 375.8,334.0 425.6,314.0" fill="none" stroke="#d984f5" stroke-width="1.25"/>
<polyline points="325.9,356.9 375.8,330.9 425.6,301.8" fill="none" stroke="#0f4c8b" stroke-width="1.25"/>
<line x1="425.5" y1="288.84950000000003" x2="425.5" y2="301.7585" stroke="#0f4c8b" stroke-width="1.0"/>
<line x1="423.40000000000003" y1="288.5" x2="427.8" y2="288.5" stroke="#0f4c8b" stroke-width="1.0"/>
<line x1="425.5" y1="301.7585" x2="425.5" y2="327.7751" stroke="#78d2f6" stroke-width="0.9"/>
<line x1="423.40000000000003" y1="327.5" x2="427.8" y2="327.5" stroke="#78d2f6" stroke-width="0.9"/>
<line x1="423.40000000000003" y1="322.5" x2="427.8" y2="322.5" stroke="#a0a8d8" stroke-width="0.9"/>
<line x1="375.5" y1="330.8534" x2="375.5" y2="337.01" stroke="#78d2f6" stroke-width="0.9"/>
<path d="M325.92,354.66 L328.13,358.57 L323.71000000000004,358.57 Z" fill="#d984f5"/>
<path d="M375.76,331.821 L377.96999999999997,335.731 L373.55,335.731 Z" fill="#d984f5"/>
<path d="M425.6,311.7624 L427.81,315.6724 L423.39000000000004,315.6724 Z" fill="#d984f5"/>
<rect x="324.22" y="355.17" width="3.4" height="3.4" fill="#0f4c8b"/>
<rect x="374.06" y="329.15340000000003" width="3.4" height="3.4" fill="#0f4c8b"/>
<rect x="423.90000000000003" y="300.05850000000004" width="3.4" height="3.4" fill="#0f4c8b"/>
<path d="M325.92,354.66 L328.13,356.87 L325.92,359.08 L323.71000000000004,356.87 Z" fill="#78d2f6"/>
<path d="M375.76,331.3245 L377.96999999999997,333.5345 L375.76,335.74449999999996 L373.55,333.5345 Z" fill="#78d2f6"/>
<path d="M425.6,311.5638 L427.81,313.7738 L425.6,315.9838 L423.39000000000004,313.7738 Z" fill="#78d2f6"/>
<line x1="433.5" y1="298.0" x2="433.5" y2="315.8" stroke="#111" stroke-width="1.1"/>
<text x="441.3" y="308" font-size="8.8" text-anchor="middle" font-weight="normal" fill="#111" stroke="#111" stroke-width="0.3" >ns</text>
<line x1="451.7" y1="274.5" x2="462.7" y2="274.5" stroke="#78d2f6" stroke-width="1.2"/>
<path d="M457.2,271.7 L459.8,274.3 L457.2,276.90000000000003 L454.59999999999997,274.3 Z" fill="#78d2f6"/>
<text x="468" y="277.5" font-size="9" text-anchor="start" font-weight="normal" fill="#111" stroke="#111" stroke-width="0.3" >0 μg/mL Dox</text>
<line x1="451.7" y1="288.5" x2="462.7" y2="288.5" stroke="#0f4c8b" stroke-width="1.2"/>
<rect x="455.2" y="286.40000000000003" width="4.0" height="4.0" fill="#0f4c8b"/>
<text x="468" y="291.6" font-size="9" text-anchor="start" font-weight="normal" fill="#111" stroke="#111" stroke-width="0.3" >1 μg/mL Dox</text>
<line x1="451.7" y1="302.5" x2="462.7" y2="302.5" stroke="#d984f5" stroke-width="1.2"/>
<path d="M457.2,299.9 L459.8,304.5 L454.59999999999997,304.5 Z" fill="#d984f5"/>
<text x="468" y="305.7" font-size="9" text-anchor="start" font-weight="normal" fill="#111" stroke="#111" stroke-width="0.3" >2 μg/mL Dox</text>
<text x="60" y="417.3" font-size="9.2" text-anchor="middle" font-weight="normal" fill="#111" stroke="#111" stroke-width="0.3" >0 μg/mL Dox</text>
<text x="131.5" y="417.3" font-size="9.2" text-anchor="middle" font-weight="normal" fill="#111" stroke="#111" stroke-width="0.3" >1 μg/mL Dox</text>
<text x="202.4" y="417.3" font-size="9.2" text-anchor="middle" font-weight="normal" fill="#111" stroke="#111" stroke-width="0.3" >2 μg/mL Dox</text>
<circle cx="61.9" cy="458.8" r="33.8" fill="url(#pg)" stroke="#d9d4e3" stroke-width="1.0"/>
<g fill="#12111f" filter="url(#b04)">
<circle cx="47.4" cy="460.7" r="0.96"/>
<circle cx="46.6" cy="458.3" r="0.55"/>
<circle cx="59.8" cy="429.4" r="0.47"/>
<circle cx="53.5" cy="467.9" r="0.67"/>
<circle cx="39.5" cy="465.6" r="0.42"/>
<circle cx="38.4" cy="445.7" r="0.64"/>
<circle cx="45.9" cy="469.0" r="0.70"/>
<circle cx="58.0" cy="462.2" r="1.20"/>
<circle cx="39.8" cy="459.4" r="0.81"/>
<circle cx="43.7" cy="443.9" r="0.41"/>
<circle cx="44.4" cy="483.5" r="0.85"/>
<circle cx="37.0" cy="442.9" r="0.44"/>
<circle cx="70.9" cy="449.9" r="1.09"/>
<circle cx="33.2" cy="461.8" r="0.45"/>
<circle cx="50.5" cy="465.1" r="0.66"/>
<circle cx="61.5" cy="489.6" r="0.71"/>
<circle cx="36.6" cy="444.6" r="0.84"/>
<circle cx="43.9" cy="436.0" r="0.49"/>
<circle cx="90.9" cy="451.1" r="0.38"/>
<circle cx="82.7" cy="462.1" r="1.66"/>
<circle cx="47.1" cy="459.4" r="0.48"/>
<circle cx="56.1" cy="436.2" r="1.14"/>
<circle cx="66.2" cy="431.1" r="0.37"/>
<circle cx="61.4" cy="485.1" r="0.49"/>
<circle cx="51.0" cy="486.6" r="0.97"/>
<circle cx="34.9" cy="457.4" r="0.59"/>
<circle cx="38.6" cy="455.0" r="1.19"/>
<circle cx="68.7" cy="464.2" r="1.08"/>
<circle cx="38.4" cy="466.8" r="0.92"/>
<circle cx="42.4" cy="456.7" r="0.37"/>
<circle cx="47.6" cy="465.1" r="1.06"/>
<circle cx="47.2" cy="463.0" r="0.57"/>
<circle cx="35.3" cy="460.2" r="1.01"/>
<circle cx="63.3" cy="433.1" r="1.04"/>
<circle cx="62.8" cy="488.9" r="1.11"/>
<circle cx="92.4" cy="451.7" r="0.46"/>
<circle cx="52.6" cy="466.4" r="0.46"/>
<circle cx="76.7" cy="480.2" r="0.84"/>
<circle cx="39.8" cy="479.9" r="0.57"/>
<circle cx="59.4" cy="471.7" r="0.42"/>
<circle cx="86.2" cy="448.3" r="0.72"/>
<circle cx="41.4" cy="442.3" r="0.54"/>
<circle cx="77.0" cy="447.0" r="1.11"/>
<circle cx="55.0" cy="457.5" r="0.54"/>
<circle cx="88.3" cy="445.4" r="0.74"/>
<circle cx="42.4" cy="443.4" r="0.87"/>
<circle cx="59.6" cy="477.4" r="1.15"/>
<circle cx="55.9" cy="446.5" r="0.36"/>
<circle cx="35.9" cy="459.6" r="0.39"/>
<circle cx="52.1" cy="433.8" r="0.64"/>
<circle cx="63.3" cy="465.0" r="1.01"/>
<circle cx="67.1" cy="429.3" r="1.88"/>
<circle cx="62.8" cy="455.6" r="1.00"/>
<circle cx="62.8" cy="433.5" r="1.58"/>
<circle cx="35.8" cy="449.4" r="1.45"/>
<circle cx="79.3" cy="468.8" r="1.11"/>
<circle cx="54.5" cy="467.5" r="0.55"/>
<circle cx="79.7" cy="445.0" r="0.50"/>
<circle cx="52.7" cy="445.9" r="0.52"/>
<circle cx="59.7" cy="481.8" r="0.64"/>
<circle cx="37.7" cy="444.2" r="1.20"/>
<circle cx="47.8" cy="472.6" r="0.99"/>
<circle cx="34.0" cy="444.3" r="0.61"/>
<circle cx="70.3" cy="438.6" r="0.64"/>
<circle cx="40.5" cy="458.8" r="1.00"/>
<circle cx="50.8" cy="470.0" r="1.16"/>
<circle cx="54.8" cy="443.2" r="0.52"/>
<circle cx="49.0" cy="480.6" r="0.40"/>
<circle cx="44.3" cy="476.7" r="0.47"/>
<circle cx="62.7" cy="433.7" r="0.81"/>
<circle cx="47.7" cy="462.9" r="0.74"/>
<circle cx="49.1" cy="459.6" r="0.46"/>
<circle cx="63.4" cy="465.5" r="0.57"/>
<circle cx="70.4" cy="446.7" r="0.76"/>
<circle cx="39.2" cy="474.2" r="0.97"/>
<circle cx="65.1" cy="435.0" r="1.26"/>
<circle cx="49.4" cy="456.4" r="1.03"/>
<circle cx="40.3" cy="476.9" r="0.38"/>
<circle cx="72.2" cy="472.9" r="0.92"/>
<circle cx="38.6" cy="470.7" r="0.54"/>
<circle cx="52.7" cy="469.4" r="0.47"/>
<circle cx="63.6" cy="464.1" r="1.44"/>
<circle cx="54.4" cy="445.7" r="0.61"/>
<circle cx="42.9" cy="455.4" r="1.12"/>
<circle cx="54.1" cy="438.4" r="1.79"/>
<circle cx="62.7" cy="490.2" r="0.69"/>
<circle cx="31.0" cy="456.1" r="0.58"/>
<circle cx="58.7" cy="469.7" r="0.35"/>
<circle cx="85.9" cy="466.3" r="0.85"/>
<circle cx="36.8" cy="467.7" r="0.60"/>
<circle cx="77.8" cy="432.0" r="0.86"/>
<circle cx="53.3" cy="431.1" r="0.68"/>
<circle cx="56.9" cy="486.2" r="0.41"/>
<circle cx="53.7" cy="470.8" r="0.79"/>
<circle cx="40.9" cy="448.4" r="1.01"/>
<circle cx="75.3" cy="482.8" r="1.42"/>
<circle cx="61.6" cy="473.5" r="1.13"/>
<circle cx="61.2" cy="431.9" r="0.46"/>
<circle cx="36.5" cy="465.2" r="0.57"/>
<circle cx="79.1" cy="462.2" r="1.01"/>
<circle cx="39.7" cy="467.5" r="0.90"/>
<circle cx="36.5" cy="468.7" r="0.62"/>
<circle cx="72.8" cy="475.8" r="0.47"/>
<circle cx="51.5" cy="456.3" r="0.38"/>
<circle cx="66.5" cy="473.5" r="0.64"/>
<circle cx="55.0" cy="442.5" r="0.97"/>
<circle cx="62.3" cy="433.7" r="0.59"/>
<circle cx="61.9" cy="438.3" r="0.44"/>
<circle cx="38.5" cy="457.3" r="0.82"/>
<circle cx="43.4" cy="467.5" r="0.83"/>
<circle cx="54.6" cy="439.5" r="0.48"/>
<circle cx="37.8" cy="460.1" r="0.48"/>
<circle cx="49.0" cy="471.9" r="0.59"/>
<circle cx="76.6" cy="454.7" r="0.63"/>
<circle cx="66.0" cy="486.2" r="1.06"/>
<circle cx="51.5" cy="451.1" r="0.93"/>
<circle cx="74.3" cy="462.1" r="1.02"/>
<circle cx="47.7" cy="480.3" r="0.79"/>
<circle cx="75.7" cy="470.7" r="0.58"/>
<circle cx="35.1" cy="450.3" r="0.60"/>
<circle cx="46.3" cy="456.4" r="0.46"/>
<circle cx="59.8" cy="480.3" r="0.91"/>
<circle cx="48.5" cy="471.4" r="1.33"/>
<circle cx="69.7" cy="428.7" r="0.44"/>
<circle cx="64.3" cy="447.3" r="1.34"/>
<circle cx="39.9" cy="456.9" r="0.77"/>
<circle cx="64.3" cy="475.2" r="0.61"/>
<circle cx="60.0" cy="468.2" r="0.70"/>
<circle cx="62.7" cy="480.7" r="0.48"/>
<circle cx="36.7" cy="462.4" r="0.76"/>
<circle cx="52.6" cy="483.8" r="0.78"/>
<circle cx="44.5" cy="473.5" r="1.38"/>
<circle cx="49.5" cy="476.6" r="0.52"/>
<circle cx="42.5" cy="437.2" r="0.81"/>
<circle cx="42.4" cy="435.1" r="0.94"/>
<circle cx="60.2" cy="488.9" r="0.36"/>
<circle cx="46.1" cy="438.7" r="1.64"/>
<circle cx="50.5" cy="485.8" r="0.50"/>
<circle cx="69.5" cy="486.3" r="0.87"/>
<circle cx="33.8" cy="449.7" r="1.02"/>
<circle cx="44.1" cy="449.4" r="0.40"/>
<circle cx="40.1" cy="465.4" r="0.92"/>
<circle cx="55.5" cy="458.1" r="1.89"/>
<circle cx="47.4" cy="466.0" r="0.36"/>
<circle cx="54.5" cy="469.7" r="0.59"/>
<circle cx="33.6" cy="461.6" r="1.77"/>
<circle cx="58.0" cy="437.1" r="0.38"/>
<circle cx="31.1" cy="464.0" r="0.55"/>
<circle cx="58.2" cy="456.1" r="0.46"/>
<circle cx="82.6" cy="477.0" r="0.74"/>
<circle cx="55.6" cy="452.7" r="0.66"/>
<circle cx="37.3" cy="460.3" r="1.15"/>
<circle cx="46.3" cy="481.8" r="1.01"/>
<circle cx="89.8" cy="456.9" r="0.48"/>
<circle cx="40.7" cy="475.0" r="0.93"/>
<circle cx="53.3" cy="482.5" r="1.29"/>
<circle cx="46.3" cy="480.3" r="0.65"/>
<circle cx="46.6" cy="434.9" r="0.39"/>
<circle cx="53.6" cy="470.1" r="0.67"/>
<circle cx="44.9" cy="446.4" r="0.55"/>
<circle cx="46.5" cy="465.5" r="0.65"/>
<circle cx="44.1" cy="461.1" r="0.46"/>
<circle cx="36.6" cy="469.7" r="0.58"/>
<circle cx="58.0" cy="481.8" r="0.97"/>
<circle cx="44.0" cy="465.3" r="1.87"/>
<circle cx="67.8" cy="442.5" r="0.59"/>
<circle cx="59.5" cy="451.1" r="1.44"/>
<circle cx="82.7" cy="464.4" r="0.96"/>
<circle cx="38.8" cy="439.1" r="0.63"/>
<circle cx="45.6" cy="445.8" r="1.17"/>
<circle cx="62.3" cy="481.6" r="1.51"/>
<circle cx="43.3" cy="478.2" r="1.54"/>
<circle cx="37.6" cy="474.0" r="0.48"/>
<circle cx="38.7" cy="443.9" r="0.55"/>
<circle cx="57.9" cy="474.7" r="1.19"/>
<circle cx="80.3" cy="472.4" r="0.36"/>
<circle cx="40.5" cy="456.8" r="0.37"/>
<circle cx="69.0" cy="440.1" r="1.31"/>
<circle cx="38.2" cy="453.8" r="0.47"/>
<circle cx="38.0" cy="471.7" r="1.37"/>
<circle cx="41.5" cy="457.2" r="0.54"/>
<circle cx="38.1" cy="465.9" r="1.19"/>
<circle cx="53.4" cy="461.7" r="1.20"/>
<circle cx="62.4" cy="431.0" r="0.77"/>
<circle cx="49.5" cy="439.6" r="1.20"/>
<circle cx="45.2" cy="445.5" r="1.80"/>
<circle cx="34.2" cy="449.2" r="0.80"/>
<circle cx="57.2" cy="466.7" r="0.45"/>
<circle cx="56.5" cy="479.4" r="1.21"/>
<circle cx="86.4" cy="473.5" r="1.33"/>
<circle cx="34.8" cy="465.7" r="0.65"/>
<circle cx="74.8" cy="462.8" r="0.70"/>
<circle cx="76.2" cy="465.6" r="0.88"/>
<circle cx="65.9" cy="465.6" r="1.24"/>
<circle cx="55.5" cy="460.8" r="0.38"/>
<circle cx="90.5" cy="469.5" r="0.64"/>
<circle cx="49.1" cy="453.3" r="1.77"/>
<circle cx="66.6" cy="457.7" r="0.71"/>
<circle cx="48.6" cy="461.5" r="0.67"/>
<circle cx="50.6" cy="485.1" r="1.18"/>
<circle cx="82.8" cy="471.9" r="0.54"/>
<circle cx="91.5" cy="451.3" r="0.68"/>
<circle cx="74.6" cy="456.0" r="0.75"/>
<circle cx="41.9" cy="479.7" r="1.75"/>
<circle cx="44.6" cy="476.2" r="0.68"/>
<circle cx="40.9" cy="467.1" r="0.44"/>
<circle cx="49.5" cy="463.3" r="0.92"/>
<circle cx="53.5" cy="466.5" r="0.88"/>
<circle cx="43.2" cy="468.7" r="1.11"/>
<circle cx="68.3" cy="475.3" r="0.52"/>
<circle cx="39.2" cy="477.7" r="1.77"/>
<circle cx="52.4" cy="455.4" r="1.38"/>
<circle cx="50.0" cy="451.2" r="1.14"/>
<circle cx="34.7" cy="444.7" r="0.51"/>
<circle cx="37.5" cy="448.9" r="1.58"/>
<circle cx="58.5" cy="458.0" r="1.16"/>
<circle cx="62.9" cy="428.2" r="0.37"/>
<circle cx="39.3" cy="465.6" r="0.49"/>
<circle cx="68.9" cy="470.1" r="0.64"/>
<circle cx="36.9" cy="467.4" r="1.10"/>
<circle cx="44.5" cy="435.5" r="1.70"/>
<circle cx="36.7" cy="439.1" r="1.43"/>
<circle cx="60.9" cy="435.5" r="1.50"/>
<circle cx="68.7" cy="434.8" r="1.57"/>
<circle cx="40.2" cy="455.4" r="1.60"/>
<circle cx="37.4" cy="458.3" r="1.76"/>
<circle cx="70.8" cy="454.0" r="1.70"/>
<circle cx="49.5" cy="458.3" r="1.57"/>
<circle cx="41.6" cy="483.2" r="1.50"/>
<circle cx="47.3" cy="478.9" r="1.84"/>
<circle cx="55.9" cy="466.1" r="2.00"/>
<circle cx="34.5" cy="469.0" r="1.82"/>
<circle cx="54.4" cy="484.6" r="1.48"/>
<circle cx="60.9" cy="427.0" r="1.82"/>
</g>
<circle cx="132.3" cy="459.1" r="34.3" fill="url(#pg)" stroke="#d9d4e3" stroke-width="1.0"/>
<g fill="#12111f" filter="url(#b04)">
<circle cx="143.9" cy="456.0" r="1.33"/>
<circle cx="151.1" cy="476.8" r="1.36"/>
<circle cx="130.5" cy="452.3" r="0.86"/>
<circle cx="107.8" cy="448.3" r="0.68"/>
<circle cx="125.3" cy="449.3" r="0.79"/>
<circle cx="154.5" cy="466.2" r="1.55"/>
<circle cx="111.9" cy="456.9" r="1.42"/>
<circle cx="115.2" cy="476.5" r="0.97"/>
<circle cx="108.3" cy="469.8" r="0.70"/>
<circle cx="119.3" cy="475.7" r="1.87"/>
<circle cx="112.1" cy="457.6" r="1.32"/>
<circle cx="114.2" cy="453.6" r="0.42"/>
<circle cx="123.6" cy="447.6" r="0.49"/>
<circle cx="105.4" cy="463.7" r="0.62"/>
<circle cx="125.2" cy="470.3" r="0.44"/>
<circle cx="143.3" cy="469.2" r="1.33"/>
<circle cx="130.7" cy="468.9" r="0.47"/>
<circle cx="129.4" cy="428.5" r="0.48"/>
<circle cx="135.7" cy="454.4" r="0.48"/>
<circle cx="132.3" cy="432.0" r="0.43"/>
<circle cx="131.5" cy="467.2" r="0.66"/>
<circle cx="127.7" cy="453.0" r="0.72"/>
<circle cx="126.8" cy="459.6" r="0.57"/>
<circle cx="120.6" cy="456.5" r="1.77"/>
<circle cx="114.0" cy="453.0" r="0.79"/>
<circle cx="130.1" cy="471.7" r="1.05"/>
<circle cx="145.3" cy="430.3" r="0.66"/>
<circle cx="133.8" cy="439.3" r="0.41"/>
<circle cx="151.0" cy="465.3" r="1.18"/>
<circle cx="113.4" cy="445.6" r="0.68"/>
<circle cx="121.1" cy="432.6" r="0.37"/>
<circle cx="131.1" cy="440.7" r="1.71"/>
<circle cx="124.9" cy="474.4" r="0.67"/>
<circle cx="130.8" cy="463.8" r="0.51"/>
<circle cx="125.7" cy="470.8" r="0.47"/>
<circle cx="139.2" cy="442.8" r="1.87"/>
<circle cx="127.8" cy="463.7" r="0.81"/>
<circle cx="143.1" cy="470.4" r="0.37"/>
<circle cx="103.9" cy="462.6" r="0.47"/>
<circle cx="107.7" cy="465.6" r="1.10"/>
<circle cx="123.1" cy="442.2" r="0.38"/>
<circle cx="136.8" cy="480.6" r="0.71"/>
<circle cx="121.8" cy="476.3" r="0.49"/>
<circle cx="110.0" cy="448.1" r="0.88"/>
<circle cx="118.9" cy="451.7" r="0.61"/>
<circle cx="134.2" cy="447.9" r="0.82"/>
<circle cx="132.1" cy="462.1" r="0.78"/>
<circle cx="153.5" cy="450.8" r="0.48"/>
<circle cx="119.0" cy="461.1" r="0.83"/>
<circle cx="112.1" cy="466.5" r="0.81"/>
<circle cx="145.0" cy="485.9" r="0.37"/>
<circle cx="119.3" cy="445.9" r="0.82"/>
<circle cx="139.0" cy="439.8" r="0.55"/>
<circle cx="119.9" cy="456.1" r="1.52"/>
<circle cx="125.8" cy="464.8" r="1.47"/>
<circle cx="140.5" cy="474.0" r="0.64"/>
<circle cx="120.6" cy="485.8" r="0.36"/>
<circle cx="139.2" cy="434.6" r="1.07"/>
<circle cx="126.2" cy="465.9" r="0.42"/>
<circle cx="125.5" cy="464.7" r="0.66"/>
<circle cx="132.0" cy="455.8" r="0.96"/>
<circle cx="148.8" cy="444.4" r="0.46"/>
<circle cx="150.6" cy="436.4" r="0.39"/>
<circle cx="134.9" cy="477.9" r="0.58"/>
<circle cx="133.8" cy="489.3" r="0.62"/>
<circle cx="123.2" cy="472.5" r="0.43"/>
<circle cx="130.5" cy="440.1" r="0.37"/>
<circle cx="136.9" cy="473.1" r="0.69"/>
<circle cx="146.2" cy="452.8" r="0.55"/>
<circle cx="137.4" cy="437.4" r="0.77"/>
<circle cx="116.7" cy="457.7" r="0.41"/>
<circle cx="154.4" cy="467.1" r="0.95"/>
<circle cx="133.5" cy="470.4" r="1.05"/>
<circle cx="108.0" cy="457.9" r="0.63"/>
<circle cx="124.9" cy="466.3" r="0.75"/>
<circle cx="120.0" cy="469.2" r="0.45"/>
<circle cx="124.7" cy="473.8" r="0.45"/>
<circle cx="135.6" cy="427.6" r="0.61"/>
<circle cx="131.3" cy="431.2" r="0.70"/>
<circle cx="135.3" cy="443.9" r="0.48"/>
<circle cx="141.5" cy="438.8" r="0.74"/>
<circle cx="118.8" cy="476.8" r="1.17"/>
<circle cx="101.4" cy="451.5" r="0.90"/>
<circle cx="107.8" cy="472.7" r="1.71"/>
<circle cx="129.4" cy="462.3" r="1.06"/>
<circle cx="132.6" cy="453.1" r="0.49"/>
<circle cx="145.2" cy="463.4" r="0.53"/>
<circle cx="141.4" cy="461.9" r="1.19"/>
<circle cx="132.3" cy="436.1" r="0.76"/>
<circle cx="121.2" cy="486.7" r="1.72"/>
<circle cx="139.9" cy="480.8" r="0.81"/>
<circle cx="117.2" cy="451.2" r="0.63"/>
<circle cx="114.3" cy="452.8" r="0.49"/>
<circle cx="129.9" cy="476.8" r="0.59"/>
<circle cx="126.5" cy="449.1" r="1.07"/>
<circle cx="122.7" cy="457.3" r="1.09"/>
<circle cx="118.3" cy="464.0" r="1.07"/>
<circle cx="118.0" cy="453.4" r="0.46"/>
<circle cx="105.2" cy="447.9" r="0.66"/>
<circle cx="118.9" cy="444.7" r="0.55"/>
<circle cx="137.4" cy="437.1" r="0.87"/>
<circle cx="146.8" cy="456.9" r="0.70"/>
<circle cx="120.3" cy="464.8" r="0.52"/>
<circle cx="128.5" cy="442.0" r="0.97"/>
<circle cx="143.6" cy="478.2" r="0.90"/>
<circle cx="137.4" cy="450.2" r="0.86"/>
<circle cx="145.7" cy="442.4" r="1.15"/>
<circle cx="132.8" cy="452.7" r="0.72"/>
<circle cx="113.8" cy="477.0" r="0.75"/>
<circle cx="130.1" cy="488.8" r="0.56"/>
<circle cx="128.1" cy="479.3" r="1.79"/>
<circle cx="116.4" cy="438.4" r="1.89"/>
<circle cx="130.4" cy="469.0" r="1.57"/>
<circle cx="117.8" cy="459.3" r="0.78"/>
<circle cx="103.8" cy="444.8" r="0.48"/>
<circle cx="124.7" cy="467.0" r="0.59"/>
<circle cx="135.0" cy="442.0" r="0.62"/>
<circle cx="140.4" cy="457.4" r="0.37"/>
<circle cx="129.4" cy="458.5" r="0.40"/>
<circle cx="136.5" cy="460.5" r="0.65"/>
<circle cx="106.1" cy="465.4" r="0.80"/>
<circle cx="112.1" cy="468.7" r="0.51"/>
<circle cx="144.3" cy="463.1" r="1.42"/>
<circle cx="106.2" cy="461.9" r="0.61"/>
<circle cx="136.0" cy="478.6" r="0.63"/>
<circle cx="141.3" cy="469.7" r="0.35"/>
<circle cx="137.0" cy="430.8" r="1.38"/>
<circle cx="126.7" cy="438.4" r="0.60"/>
<circle cx="130.0" cy="446.6" r="1.00"/>
<circle cx="120.4" cy="481.3" r="0.97"/>
<circle cx="145.6" cy="435.4" r="0.76"/>
<circle cx="155.6" cy="460.4" r="0.95"/>
<circle cx="104.4" cy="461.2" r="0.44"/>
<circle cx="140.5" cy="483.2" r="0.89"/>
<circle cx="153.8" cy="477.7" r="0.58"/>
<circle cx="154.7" cy="456.3" r="0.63"/>
<circle cx="131.1" cy="439.7" r="0.50"/>
<circle cx="124.0" cy="481.6" r="0.51"/>
<circle cx="137.1" cy="456.6" r="0.60"/>
<circle cx="132.8" cy="455.1" r="1.52"/>
<circle cx="136.4" cy="485.7" r="0.67"/>
<circle cx="116.1" cy="442.3" r="0.36"/>
<circle cx="103.5" cy="447.5" r="0.57"/>
<circle cx="141.5" cy="440.3" r="1.03"/>
<circle cx="135.5" cy="487.8" r="0.82"/>
<circle cx="135.6" cy="441.5" r="0.80"/>
<circle cx="117.0" cy="457.5" r="0.55"/>
<circle cx="150.9" cy="441.4" r="1.11"/>
<circle cx="124.0" cy="466.7" r="0.64"/>
<circle cx="106.8" cy="468.3" r="1.13"/>
<circle cx="141.1" cy="475.2" r="0.55"/>
<circle cx="134.3" cy="459.0" r="0.92"/>
<circle cx="129.5" cy="429.2" r="0.78"/>
<circle cx="125.9" cy="434.1" r="0.44"/>
<circle cx="156.1" cy="452.4" r="0.40"/>
<circle cx="146.2" cy="473.1" r="0.52"/>
<circle cx="120.2" cy="470.3" r="0.50"/>
<circle cx="106.8" cy="459.2" r="0.66"/>
<circle cx="120.6" cy="451.5" r="0.55"/>
<circle cx="120.5" cy="470.6" r="1.72"/>
<circle cx="152.2" cy="436.2" r="1.06"/>
<circle cx="109.1" cy="461.0" r="0.79"/>
<circle cx="148.0" cy="464.7" r="0.36"/>
<circle cx="152.8" cy="475.0" r="0.91"/>
<circle cx="124.0" cy="439.9" r="1.02"/>
<circle cx="150.8" cy="461.1" r="0.52"/>
<circle cx="122.2" cy="431.1" r="0.60"/>
<circle cx="145.5" cy="458.7" r="0.69"/>
<circle cx="113.5" cy="479.3" r="0.69"/>
<circle cx="128.7" cy="460.0" r="1.16"/>
<circle cx="121.2" cy="483.4" r="0.36"/>
<circle cx="136.0" cy="470.2" r="0.80"/>
<circle cx="130.1" cy="468.0" r="1.00"/>
<circle cx="118.1" cy="440.4" r="1.12"/>
<circle cx="139.5" cy="459.4" r="1.04"/>
<circle cx="158.2" cy="474.9" r="0.36"/>
<circle cx="138.1" cy="471.0" r="0.69"/>
<circle cx="132.6" cy="450.4" r="0.64"/>
<circle cx="129.5" cy="435.3" r="1.11"/>
<circle cx="149.3" cy="443.1" r="1.05"/>
<circle cx="113.2" cy="450.2" r="0.50"/>
<circle cx="129.5" cy="443.1" r="1.19"/>
<circle cx="129.4" cy="435.4" r="1.16"/>
<circle cx="152.1" cy="461.3" r="1.03"/>
<circle cx="138.8" cy="466.8" r="0.38"/>
<circle cx="129.0" cy="447.7" r="0.92"/>
<circle cx="126.8" cy="479.9" r="0.99"/>
<circle cx="136.0" cy="471.1" r="1.35"/>
<circle cx="141.9" cy="437.4" r="0.37"/>
<circle cx="112.1" cy="436.4" r="1.40"/>
<circle cx="116.1" cy="480.3" r="0.52"/>
<circle cx="119.4" cy="459.9" r="0.42"/>
<circle cx="119.8" cy="450.3" r="1.45"/>
<circle cx="132.0" cy="456.8" r="1.58"/>
<circle cx="112.5" cy="460.3" r="1.09"/>
<circle cx="157.9" cy="464.8" r="1.06"/>
<circle cx="121.5" cy="435.2" r="1.12"/>
<circle cx="112.8" cy="483.5" r="0.37"/>
<circle cx="104.0" cy="450.2" r="1.55"/>
<circle cx="125.6" cy="448.0" r="0.43"/>
<circle cx="127.4" cy="454.3" r="0.76"/>
<circle cx="132.0" cy="475.9" r="1.11"/>
<circle cx="143.5" cy="485.9" r="0.39"/>
<circle cx="122.5" cy="454.9" r="0.59"/>
<circle cx="114.4" cy="459.6" r="0.80"/>
<circle cx="127.9" cy="433.9" r="1.12"/>
<circle cx="132.6" cy="438.5" r="0.55"/>
<circle cx="144.8" cy="461.1" r="0.38"/>
<circle cx="136.6" cy="442.1" r="0.74"/>
<circle cx="145.9" cy="480.2" r="1.16"/>
<circle cx="146.8" cy="472.1" r="0.48"/>
<circle cx="146.9" cy="483.9" r="0.93"/>
<circle cx="123.3" cy="458.8" r="0.65"/>
<circle cx="119.7" cy="448.5" r="0.43"/>
<circle cx="130.0" cy="433.2" r="1.82"/>
<circle cx="117.1" cy="469.8" r="0.71"/>
<circle cx="122.3" cy="445.9" r="0.76"/>
<circle cx="137.1" cy="434.8" r="1.01"/>
<circle cx="139.6" cy="469.0" r="0.43"/>
<circle cx="124.1" cy="453.5" r="1.09"/>
<circle cx="124.7" cy="459.9" r="1.16"/>
<circle cx="132.5" cy="428.7" r="1.13"/>
<circle cx="117.6" cy="431.1" r="0.52"/>
<circle cx="124.3" cy="463.7" r="0.41"/>
<circle cx="111.7" cy="464.5" r="1.08"/>
<circle cx="106.4" cy="447.2" r="0.68"/>
<circle cx="131.3" cy="429.9" r="0.52"/>
<circle cx="135.6" cy="467.1" r="1.09"/>
<circle cx="136.2" cy="437.8" r="0.50"/>
<circle cx="138.9" cy="480.9" r="0.57"/>
<circle cx="114.4" cy="464.7" r="0.63"/>
<circle cx="114.7" cy="460.7" r="0.81"/>
<circle cx="152.2" cy="454.2" r="1.49"/>
<circle cx="103.7" cy="465.1" r="0.37"/>
<circle cx="115.8" cy="475.6" r="0.69"/>
<circle cx="118.8" cy="436.2" r="0.64"/>
<circle cx="145.7" cy="475.7" r="0.73"/>
<circle cx="118.4" cy="459.8" r="0.82"/>
<circle cx="142.1" cy="473.2" r="0.99"/>
<circle cx="108.9" cy="446.3" r="0.73"/>
<circle cx="116.0" cy="434.9" r="1.46"/>
<circle cx="128.9" cy="452.2" r="1.74"/>
<circle cx="146.2" cy="466.0" r="1.79"/>
<circle cx="110.8" cy="465.2" r="1.57"/>
<circle cx="117.7" cy="448.7" r="1.99"/>
<circle cx="140.2" cy="472.1" r="1.47"/>
<circle cx="127.2" cy="486.8" r="1.89"/>
<circle cx="143.6" cy="478.1" r="1.73"/>
<circle cx="160.0" cy="442.7" r="1.76"/>
<circle cx="135.8" cy="440.1" r="1.66"/>
<circle cx="125.5" cy="461.7" r="1.44"/>
<circle cx="111.6" cy="470.4" r="1.66"/>
<circle cx="129.8" cy="432.3" r="1.81"/>
<circle cx="104.7" cy="445.3" r="1.85"/>
</g>
<circle cx="202.6" cy="458.8" r="34.3" fill="url(#pg)" stroke="#d9d4e3" stroke-width="1.0"/>
<g fill="#12111f" filter="url(#b04)">
<circle cx="191.3" cy="456.6" r="0.43"/>
<circle cx="197.8" cy="460.2" r="0.91"/>
<circle cx="208.2" cy="471.1" r="0.80"/>
<circle cx="210.2" cy="465.4" r="0.55"/>
<circle cx="187.1" cy="453.9" r="1.05"/>
<circle cx="218.3" cy="486.2" r="0.36"/>
<circle cx="222.0" cy="455.7" r="0.51"/>
<circle cx="174.9" cy="449.8" r="0.87"/>
<circle cx="215.2" cy="466.7" r="1.55"/>
<circle cx="219.3" cy="472.7" r="0.92"/>
<circle cx="195.2" cy="443.2" r="1.66"/>
<circle cx="204.4" cy="462.8" r="0.61"/>
<circle cx="187.2" cy="448.9" r="0.65"/>
<circle cx="205.7" cy="453.2" r="1.08"/>
<circle cx="187.2" cy="471.3" r="0.49"/>
<circle cx="194.4" cy="444.2" r="0.73"/>
<circle cx="208.6" cy="464.5" r="0.57"/>
<circle cx="227.3" cy="450.3" r="1.88"/>
<circle cx="224.9" cy="477.5" r="0.63"/>
<circle cx="222.4" cy="483.4" r="1.08"/>
<circle cx="212.1" cy="431.9" r="0.55"/>
<circle cx="231.8" cy="449.7" r="0.88"/>
<circle cx="203.8" cy="448.8" r="0.66"/>
<circle cx="202.7" cy="465.1" r="1.74"/>
<circle cx="197.5" cy="467.1" r="0.63"/>
<circle cx="207.3" cy="432.6" r="1.09"/>
<circle cx="182.0" cy="435.9" r="0.54"/>
<circle cx="187.4" cy="469.5" r="0.47"/>
<circle cx="199.8" cy="467.5" r="0.67"/>
<circle cx="214.6" cy="448.4" r="1.05"/>
<circle cx="177.5" cy="443.3" r="0.46"/>
<circle cx="205.4" cy="448.2" r="0.39"/>
<circle cx="201.7" cy="481.9" r="0.92"/>
<circle cx="205.3" cy="448.3" r="0.35"/>
<circle cx="205.4" cy="467.7" r="0.67"/>
<circle cx="202.3" cy="457.1" r="0.71"/>
<circle cx="199.1" cy="486.7" r="0.42"/>
<circle cx="216.4" cy="466.8" r="0.65"/>
<circle cx="205.1" cy="452.4" r="0.70"/>
<circle cx="214.9" cy="450.2" r="0.81"/>
<circle cx="193.2" cy="463.7" r="0.73"/>
<circle cx="200.5" cy="478.6" r="1.15"/>
<circle cx="230.8" cy="464.6" r="0.73"/>
<circle cx="217.5" cy="481.7" r="0.54"/>
<circle cx="204.2" cy="473.7" r="0.67"/>
<circle cx="206.7" cy="439.7" r="0.80"/>
<circle cx="173.7" cy="461.0" r="0.92"/>
<circle cx="216.1" cy="457.7" r="0.59"/>
<circle cx="225.6" cy="473.8" r="0.57"/>
<circle cx="196.2" cy="472.8" r="0.77"/>
<circle cx="199.9" cy="462.3" r="0.74"/>
<circle cx="211.8" cy="433.6" r="0.43"/>
<circle cx="200.5" cy="469.5" r="1.54"/>
<circle cx="182.4" cy="482.9" r="0.66"/>
<circle cx="208.7" cy="482.4" r="0.86"/>
<circle cx="197.1" cy="436.7" r="0.96"/>
<circle cx="194.8" cy="462.0" r="0.37"/>
<circle cx="203.3" cy="450.9" r="0.66"/>
<circle cx="179.1" cy="478.0" r="1.63"/>
<circle cx="213.2" cy="472.7" r="0.45"/>
<circle cx="202.8" cy="482.3" r="0.51"/>
<circle cx="208.5" cy="429.6" r="0.41"/>
<circle cx="213.2" cy="463.4" r="0.50"/>
<circle cx="203.1" cy="463.3" r="1.24"/>
<circle cx="194.9" cy="455.7" r="1.45"/>
<circle cx="192.7" cy="432.9" r="0.94"/>
<circle cx="217.4" cy="463.7" r="0.51"/>
<circle cx="226.8" cy="456.7" r="0.50"/>
<circle cx="197.4" cy="477.3" r="0.40"/>
<circle cx="199.7" cy="455.3" r="1.13"/>
<circle cx="194.8" cy="475.5" r="0.53"/>
<circle cx="189.0" cy="455.4" r="0.42"/>
<circle cx="182.6" cy="440.5" r="0.49"/>
<circle cx="215.1" cy="480.2" r="0.94"/>
<circle cx="229.1" cy="471.6" r="0.54"/>
<circle cx="175.6" cy="466.3" r="0.79"/>
<circle cx="207.1" cy="462.5" r="0.72"/>
<circle cx="213.2" cy="446.6" r="0.61"/>
<circle cx="202.2" cy="460.1" r="1.15"/>
<circle cx="198.2" cy="449.7" r="1.21"/>
<circle cx="197.2" cy="443.3" r="1.58"/>
<circle cx="209.8" cy="436.5" r="0.43"/>
<circle cx="193.1" cy="480.0" r="0.74"/>
<circle cx="192.0" cy="457.4" r="0.95"/>
<circle cx="212.6" cy="468.9" r="0.40"/>
<circle cx="218.9" cy="464.8" r="1.71"/>
<circle cx="210.2" cy="462.1" r="0.48"/>
<circle cx="230.3" cy="451.2" r="0.69"/>
<circle cx="180.1" cy="444.4" r="0.70"/>
<circle cx="226.6" cy="461.6" r="0.73"/>
<circle cx="231.5" cy="453.1" r="1.06"/>
<circle cx="189.3" cy="466.7" r="1.72"/>
<circle cx="192.7" cy="489.0" r="1.67"/>
<circle cx="200.8" cy="483.6" r="0.60"/>
<circle cx="206.6" cy="483.0" r="0.40"/>
<circle cx="213.1" cy="456.8" r="0.53"/>
<circle cx="206.8" cy="466.7" r="1.85"/>
<circle cx="195.4" cy="463.6" r="1.29"/>
<circle cx="195.1" cy="463.1" r="0.69"/>
<circle cx="185.9" cy="479.2" r="0.92"/>
<circle cx="186.8" cy="456.2" r="0.71"/>
<circle cx="214.2" cy="456.3" r="0.48"/>
<circle cx="215.7" cy="455.7" r="0.73"/>
<circle cx="217.8" cy="480.4" r="0.65"/>
<circle cx="182.4" cy="434.4" r="1.00"/>
<circle cx="212.9" cy="475.3" r="1.05"/>
<circle cx="200.5" cy="480.5" r="0.70"/>
<circle cx="203.9" cy="485.2" r="0.55"/>
<circle cx="206.8" cy="468.4" r="1.34"/>
<circle cx="178.0" cy="463.1" r="0.65"/>
<circle cx="183.5" cy="475.1" r="0.47"/>
<circle cx="202.0" cy="457.9" r="0.48"/>
<circle cx="190.1" cy="460.4" r="0.64"/>
<circle cx="206.3" cy="480.7" r="0.63"/>
<circle cx="222.6" cy="452.9" r="0.58"/>
<circle cx="204.6" cy="429.3" r="0.61"/>
<circle cx="190.7" cy="480.7" r="1.18"/>
<circle cx="226.6" cy="459.3" r="0.44"/>
<circle cx="201.9" cy="458.4" r="1.16"/>
<circle cx="208.6" cy="463.9" r="0.99"/>
<circle cx="198.1" cy="462.9" r="1.13"/>
<circle cx="224.5" cy="465.7" r="1.08"/>
<circle cx="192.1" cy="442.4" r="0.85"/>
<circle cx="187.1" cy="464.2" r="0.69"/>
<circle cx="181.6" cy="468.4" r="0.91"/>
<circle cx="201.7" cy="458.8" r="1.03"/>
<circle cx="188.0" cy="481.8" r="0.36"/>
<circle cx="181.1" cy="458.5" r="0.78"/>
<circle cx="177.2" cy="466.5" r="1.33"/>
<circle cx="172.9" cy="461.9" r="0.58"/>
<circle cx="199.8" cy="460.0" r="0.48"/>
<circle cx="208.7" cy="449.5" r="0.55"/>
<circle cx="208.2" cy="460.5" r="0.56"/>
<circle cx="185.8" cy="478.3" r="0.82"/>
<circle cx="213.3" cy="456.1" r="1.68"/>
<circle cx="201.3" cy="470.8" r="0.40"/>
<circle cx="192.0" cy="457.6" r="0.79"/>
<circle cx="202.7" cy="454.2" r="0.54"/>
<circle cx="227.4" cy="460.8" r="1.11"/>
<circle cx="209.2" cy="429.8" r="1.63"/>
<circle cx="177.1" cy="446.9" r="0.37"/>
<circle cx="205.6" cy="460.9" r="1.11"/>
<circle cx="201.1" cy="464.3" r="1.04"/>
<circle cx="205.1" cy="429.3" r="0.86"/>
<circle cx="229.7" cy="475.0" r="0.49"/>
<circle cx="217.0" cy="487.1" r="0.46"/>
<circle cx="214.8" cy="461.8" r="0.36"/>
<circle cx="228.1" cy="474.1" r="0.50"/>
<circle cx="179.7" cy="448.8" r="1.34"/>
<circle cx="202.4" cy="466.0" r="0.94"/>
<circle cx="197.0" cy="433.1" r="0.57"/>
<circle cx="214.9" cy="446.1" r="1.13"/>
<circle cx="198.1" cy="468.8" r="1.11"/>
<circle cx="205.5" cy="449.9" r="0.69"/>
<circle cx="198.1" cy="468.8" r="0.52"/>
<circle cx="210.6" cy="469.2" r="1.12"/>
<circle cx="197.6" cy="456.4" r="0.38"/>
<circle cx="187.5" cy="461.5" r="1.53"/>
<circle cx="203.8" cy="482.3" r="0.44"/>
<circle cx="220.6" cy="446.5" r="0.38"/>
<circle cx="207.7" cy="464.1" r="0.58"/>
<circle cx="223.7" cy="475.3" r="0.62"/>
<circle cx="198.7" cy="471.7" r="0.52"/>
<circle cx="195.5" cy="481.6" r="0.75"/>
<circle cx="202.6" cy="465.9" r="0.77"/>
<circle cx="212.1" cy="451.7" r="0.63"/>
<circle cx="202.4" cy="441.3" r="0.64"/>
<circle cx="204.6" cy="489.5" r="0.92"/>
<circle cx="179.2" cy="459.2" r="0.39"/>
<circle cx="225.7" cy="460.0" r="0.69"/>
<circle cx="211.6" cy="463.1" r="0.96"/>
<circle cx="194.7" cy="462.5" r="0.64"/>
<circle cx="200.5" cy="453.5" r="0.67"/>
<circle cx="222.1" cy="438.2" r="0.84"/>
<circle cx="183.4" cy="454.9" r="0.58"/>
<circle cx="215.6" cy="472.8" r="0.51"/>
<circle cx="183.2" cy="481.6" r="0.37"/>
<circle cx="200.6" cy="471.4" r="0.44"/>
<circle cx="201.7" cy="462.4" r="0.38"/>
<circle cx="230.6" cy="450.2" r="0.50"/>
<circle cx="195.9" cy="427.9" r="1.27"/>
<circle cx="210.8" cy="463.3" r="0.61"/>
<circle cx="208.0" cy="479.2" r="0.87"/>
<circle cx="181.6" cy="471.7" r="1.23"/>
<circle cx="206.4" cy="456.4" r="0.58"/>
<circle cx="188.4" cy="461.1" r="0.86"/>
<circle cx="200.8" cy="456.1" r="0.68"/>
<circle cx="217.0" cy="477.8" r="0.83"/>
<circle cx="201.4" cy="468.9" r="0.78"/>
<circle cx="208.9" cy="449.9" r="0.37"/>
<circle cx="194.2" cy="463.5" r="1.89"/>
<circle cx="195.3" cy="479.2" r="0.62"/>
<circle cx="202.4" cy="446.8" r="1.88"/>
<circle cx="205.2" cy="467.8" r="0.37"/>
<circle cx="195.8" cy="428.2" r="1.11"/>
<circle cx="191.0" cy="484.2" r="0.76"/>
<circle cx="197.6" cy="465.4" r="0.74"/>
<circle cx="190.0" cy="461.2" r="1.14"/>
<circle cx="210.7" cy="452.9" r="0.63"/>
<circle cx="186.4" cy="469.2" r="0.62"/>
<circle cx="216.8" cy="464.4" r="0.39"/>
<circle cx="209.0" cy="456.1" r="1.84"/>
<circle cx="227.4" cy="446.2" r="0.54"/>
<circle cx="179.4" cy="462.1" r="0.82"/>
<circle cx="171.6" cy="461.5" r="0.63"/>
<circle cx="187.3" cy="456.2" r="0.45"/>
<circle cx="179.9" cy="441.9" r="0.42"/>
<circle cx="211.7" cy="459.8" r="0.38"/>
<circle cx="229.3" cy="445.6" r="1.66"/>
<circle cx="188.1" cy="444.0" r="0.82"/>
<circle cx="199.8" cy="470.1" r="0.56"/>
<circle cx="190.8" cy="476.0" r="1.09"/>
<circle cx="215.0" cy="460.7" r="0.90"/>
<circle cx="184.2" cy="464.6" r="0.57"/>
<circle cx="208.7" cy="487.3" r="0.94"/>
<circle cx="209.1" cy="454.2" r="0.73"/>
<circle cx="202.4" cy="427.6" r="0.69"/>
<circle cx="200.3" cy="432.0" r="1.05"/>
<circle cx="172.5" cy="466.2" r="0.62"/>
<circle cx="233.1" cy="455.9" r="1.26"/>
<circle cx="181.6" cy="433.0" r="1.77"/>
<circle cx="196.6" cy="437.9" r="1.45"/>
<circle cx="198.7" cy="449.3" r="1.62"/>
<circle cx="200.1" cy="461.4" r="1.94"/>
<circle cx="203.7" cy="464.3" r="1.82"/>
<circle cx="197.3" cy="465.0" r="1.83"/>
<circle cx="183.1" cy="467.1" r="1.49"/>
<circle cx="207.3" cy="481.3" r="1.95"/>
<circle cx="208.7" cy="485.6" r="1.84"/>
<circle cx="228.6" cy="443.6" r="1.83"/>
<circle cx="232.9" cy="461.4" r="1.69"/>
<circle cx="180.2" cy="474.9" r="1.55"/>
<circle cx="211.5" cy="434.4" r="1.80"/>
<circle cx="203.0" cy="455.0" r="1.73"/>
</g>
<line x1="317.5" y1="440.4" x2="317.5" y2="514.1" stroke="#2b2b2b" stroke-width="1.2"/>
<line x1="317.5" y1="412.5" x2="317.5" y2="431.4" stroke="#2b2b2b" stroke-width="1.2"/>
<line x1="316.9" y1="513.5" x2="383.6" y2="513.5" stroke="#2b2b2b" stroke-width="1.2"/>
<line x1="312.5" y1="513.5" x2="317.5" y2="513.5" stroke="#2b2b2b" stroke-width="1.1"/>
<text x="311.5" y="516.0" font-size="7.4" text-anchor="end" font-weight="normal" fill="#111" stroke="#111" stroke-width="0.3" >0</text>
<line x1="312.5" y1="484.5" x2="317.5" y2="484.5" stroke="#2b2b2b" stroke-width="1.1"/>
<text x="311.5" y="487.0" font-size="7.4" text-anchor="end" font-weight="normal" fill="#111" stroke="#111" stroke-width="0.3" >2</text>
<line x1="312.5" y1="455.5" x2="317.5" y2="455.5" stroke="#2b2b2b" stroke-width="1.1"/>
<text x="311.5" y="458.0" font-size="7.4" text-anchor="end" font-weight="normal" fill="#111" stroke="#111" stroke-width="0.3" >4</text>
<line x1="315.0" y1="440.5" x2="320.1" y2="440.5" stroke="#2b2b2b" stroke-width="1.1"/>
<line x1="312.5" y1="413.5" x2="317.5" y2="413.5" stroke="#2b2b2b" stroke-width="1.1"/>
<text x="311.5" y="415.5" font-size="7.4" text-anchor="end" font-weight="normal" fill="#111" stroke="#111" stroke-width="0.3" >15</text>
<line x1="312.5" y1="422.5" x2="317.5" y2="422.5" stroke="#2b2b2b" stroke-width="1.1"/>
<text x="311.5" y="424.8" font-size="7.4" text-anchor="end" font-weight="normal" fill="#111" stroke="#111" stroke-width="0.3" >10</text>
<line x1="312.5" y1="431.5" x2="317.5" y2="431.5" stroke="#2b2b2b" stroke-width="1.1"/>
<text x="311.5" y="433.9" font-size="7.4" text-anchor="end" font-weight="normal" fill="#111" stroke="#111" stroke-width="0.3" >5</text>
<line x1="317.5" y1="431.5" x2="320.1" y2="431.5" stroke="#2b2b2b" stroke-width="1.1"/>
<text x="0" y="0" font-size="8.8" text-anchor="middle" font-weight="normal" fill="#111" stroke="#111" stroke-width="0.3" transform="translate(299.7,465.3) rotate(-90)">Relative colony area</text>
<line x1="328.1" y1="411.5" x2="372.5" y2="411.5" stroke="#111" stroke-width="1.1"/>
<text x="350.5" y="407.0" font-size="8.8" text-anchor="middle" font-weight="normal" fill="#111" stroke="#111" stroke-width="0.3" >ns</text>
<line x1="330.5" y1="463" x2="330.5" y2="490.8" stroke="#78d2f6" stroke-width="1.1"/>
<line x1="326.8" y1="463.5" x2="333.8" y2="463.5" stroke="#78d2f6" stroke-width="1.1"/>
<line x1="330.5" y1="509.5" x2="330.5" y2="512.5" stroke="#78d2f6" stroke-width="1.1"/>
<line x1="326.8" y1="512.5" x2="333.8" y2="512.5" stroke="#78d2f6" stroke-width="1.1"/>
<rect x="323.3" y="490.8" width="14.0" height="18.69999999999999" fill="#fff" stroke="#78d2f6" stroke-width="1.1"/>
<line x1="323.3" y1="502.5" x2="337.3" y2="502.5" stroke="#78d2f6" stroke-width="1.1"/>
<line x1="350.5" y1="462" x2="350.5" y2="488.8" stroke="#0f4c8b" stroke-width="1.1"/>
<line x1="346.75" y1="462.5" x2="353.75" y2="462.5" stroke="#0f4c8b" stroke-width="1.1"/>
<line x1="350.5" y1="508.8" x2="350.5" y2="512.5" stroke="#0f4c8b" stroke-width="1.1"/>
<line x1="346.75" y1="512.5" x2="353.75" y2="512.5" stroke="#0f4c8b" stroke-width="1.1"/>
<rect x="343.5" y="488.8" width="13.5" height="20.0" fill="#fff" stroke="#0f4c8b" stroke-width="1.1"/>
<line x1="343.5" y1="503.5" x2="357" y2="503.5" stroke="#0f4c8b" stroke-width="1.1"/>
<line x1="370.5" y1="473.3" x2="370.5" y2="495" stroke="#d984f5" stroke-width="1.1"/>
<line x1="366.75" y1="473.5" x2="373.75" y2="473.5" stroke="#d984f5" stroke-width="1.1"/>
<line x1="370.5" y1="510" x2="370.5" y2="512.5" stroke="#d984f5" stroke-width="1.1"/>
<line x1="366.75" y1="512.5" x2="373.75" y2="512.5" stroke="#d984f5" stroke-width="1.1"/>
<rect x="363.5" y="495" width="13.5" height="15" fill="#fff" stroke="#d984f5" stroke-width="1.1"/>
<line x1="363.5" y1="505.5" x2="377" y2="505.5" stroke="#d984f5" stroke-width="1.1"/>
<circle cx="330.4" cy="454.6" r="1.1" fill="#78d2f6"/>
<circle cx="329.6" cy="429.8" r="1.1" fill="#78d2f6"/>
<circle cx="331.2" cy="429.8" r="1.1" fill="#78d2f6"/>
<path d="M348.9,440.40000000000003 L351.5,440.40000000000003 L350.2,442.6 Z" fill="#0f4c8b"/>
<path d="M344.7,446.20000000000005 L347.3,446.20000000000005 L346,448.40000000000003 Z" fill="#0f4c8b"/>
<path d="M348.9,447.40000000000003 L351.5,447.40000000000003 L350.2,449.6 Z" fill="#0f4c8b"/>
<path d="M353.3,447.40000000000003 L355.90000000000003,447.40000000000003 L354.6,449.6 Z" fill="#0f4c8b"/>
<path d="M348.9,451.40000000000003 L351.5,451.40000000000003 L350.2,453.6 Z" fill="#0f4c8b"/>
<path d="M348.9,456.20000000000005 L351.5,456.20000000000005 L350.2,458.40000000000003 Z" fill="#0f4c8b"/>
<circle cx="369" cy="463.8" r="1.0" fill="#d984f5"/>
<circle cx="371.3" cy="466.7" r="1.0" fill="#d984f5"/>
<circle cx="370.2" cy="454.4" r="1.0" fill="#d984f5"/>
<circle cx="370.2" cy="428.7" r="1.0" fill="#d984f5"/>
<circle cx="370.2" cy="417" r="1.0" fill="#d984f5"/>
<text x="265" y="526.3" font-size="9" text-anchor="start" font-weight="normal" fill="#111" stroke="#111" stroke-width="0.3" >Dox (μg/mL):</text>
<text x="330.1" y="526.0" font-size="8.8" text-anchor="middle" font-weight="normal" fill="#111" stroke="#111" stroke-width="0.3" >0</text>
<text x="351.1" y="526.0" font-size="8.8" text-anchor="middle" font-weight="normal" fill="#111" stroke="#111" stroke-width="0.3" >1</text>
<text x="370.2" y="526.0" font-size="8.8" text-anchor="middle" font-weight="normal" fill="#111" stroke="#111" stroke-width="0.3" >2</text>
<line x1="420.5" y1="415" x2="420.5" y2="514.3000000000001" stroke="#2b2b2b" stroke-width="1.2"/>
<line x1="419.9" y1="513.5" x2="485.5" y2="513.5" stroke="#2b2b2b" stroke-width="1.2"/>
<line x1="417.0" y1="513.5" x2="420.5" y2="513.5" stroke="#2b2b2b" stroke-width="1.1"/>
<text x="415.5" y="515.7" font-size="7.4" text-anchor="end" font-weight="normal" fill="#111" stroke="#111" stroke-width="0.3" >0</text>
<line x1="417.0" y1="489.5" x2="420.5" y2="489.5" stroke="#2b2b2b" stroke-width="1.1"/>
<text x="415.5" y="491.02500000000003" font-size="7.4" text-anchor="end" font-weight="normal" fill="#111" stroke="#111" stroke-width="0.3" >2</text>
<line x1="417.0" y1="464.5" x2="420.5" y2="464.5" stroke="#2b2b2b" stroke-width="1.1"/>
<text x="415.5" y="466.35" font-size="7.4" text-anchor="end" font-weight="normal" fill="#111" stroke="#111" stroke-width="0.3" >4</text>
<line x1="417.0" y1="439.5" x2="420.5" y2="439.5" stroke="#2b2b2b" stroke-width="1.1"/>
<text x="415.5" y="441.675" font-size="7.4" text-anchor="end" font-weight="normal" fill="#111" stroke="#111" stroke-width="0.3" >6</text>
<line x1="417.0" y1="415.5" x2="420.5" y2="415.5" stroke="#2b2b2b" stroke-width="1.1"/>
<text x="415.5" y="417.0" font-size="7.4" text-anchor="end" font-weight="normal" fill="#111" stroke="#111" stroke-width="0.3" >8</text>
<rect x="426.8" y="421.16875" width="13.8" height="92.53125000000006" fill="#78d2f6" />
<rect x="446.3" y="423.63625" width="13.8" height="90.06375000000003" fill="#0f4c8b" />
<rect x="465.8" y="427.3375" width="13.8" height="86.36250000000007" fill="#d984f5" />
<text x="0" y="0" font-size="8.8" text-anchor="middle" font-weight="normal" fill="#111" stroke="#111" stroke-width="0.3" transform="translate(404.9,462) rotate(-90)">Colony-forming efficiency (%)</text>
<text x="433.5" y="525.7" font-size="8.8" text-anchor="middle" font-weight="normal" fill="#111" stroke="#111" stroke-width="0.3" >0</text>
<text x="453.5" y="525.7" font-size="8.8" text-anchor="middle" font-weight="normal" fill="#111" stroke="#111" stroke-width="0.3" >1</text>
<text x="473.2" y="525.7" font-size="8.8" text-anchor="middle" font-weight="normal" fill="#111" stroke="#111" stroke-width="0.3" >2</text>
</svg>
</body></html>
